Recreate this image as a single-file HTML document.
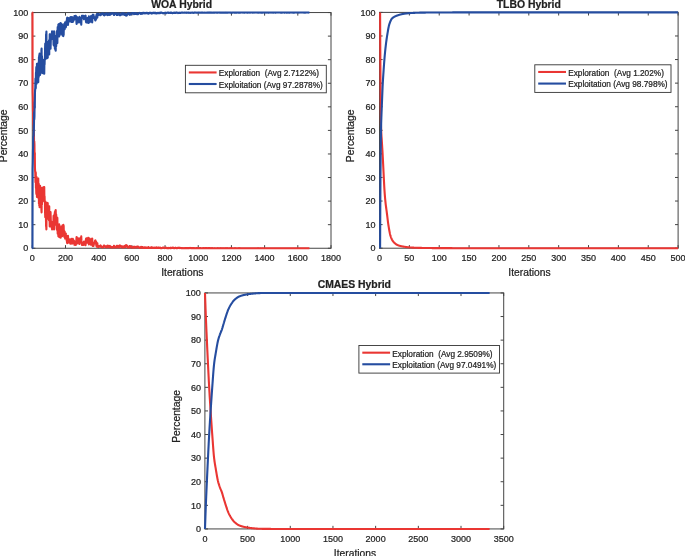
<!DOCTYPE html>
<html><head><meta charset="utf-8"><title>Hybrid exploration / exploitation</title>
<style>
html,body{margin:0;padding:0;background:#fff;}
body{width:685px;height:556px;overflow:hidden;}
svg{display:block;font-family:"Liberation Sans", Arial, sans-serif;fill:#222;}
text{stroke:#222;stroke-width:0.22px;white-space:pre;}
</style></head><body>
<svg width="685" height="556" viewBox="0 0 685 556">
<rect width="685" height="556" fill="#fff"/>
<rect x="32.3" y="12.55" width="298.7" height="235.7" fill="none" stroke="#444" stroke-width="1"/>
<text x="28.3" y="251.45" text-anchor="end" font-size="9.0">0</text>
<text x="28.3" y="227.88" text-anchor="end" font-size="9.0">10</text>
<text x="28.3" y="204.31" text-anchor="end" font-size="9.0">20</text>
<text x="28.3" y="180.74" text-anchor="end" font-size="9.0">30</text>
<text x="28.3" y="157.17" text-anchor="end" font-size="9.0">40</text>
<text x="28.3" y="133.6" text-anchor="end" font-size="9.0">50</text>
<text x="28.3" y="110.03" text-anchor="end" font-size="9.0">60</text>
<text x="28.3" y="86.46" text-anchor="end" font-size="9.0">70</text>
<text x="28.3" y="62.89" text-anchor="end" font-size="9.0">80</text>
<text x="28.3" y="39.32" text-anchor="end" font-size="9.0">90</text>
<text x="28.3" y="15.75" text-anchor="end" font-size="9.0">100</text>
<text x="32.3" y="261.25" text-anchor="middle" font-size="9.0">0</text>
<text x="65.49" y="261.25" text-anchor="middle" font-size="9.0">200</text>
<text x="98.68" y="261.25" text-anchor="middle" font-size="9.0">400</text>
<text x="131.87" y="261.25" text-anchor="middle" font-size="9.0">600</text>
<text x="165.06" y="261.25" text-anchor="middle" font-size="9.0">800</text>
<text x="198.24" y="261.25" text-anchor="middle" font-size="9.0">1000</text>
<text x="231.43" y="261.25" text-anchor="middle" font-size="9.0">1200</text>
<text x="264.62" y="261.25" text-anchor="middle" font-size="9.0">1400</text>
<text x="297.81" y="261.25" text-anchor="middle" font-size="9.0">1600</text>
<text x="331" y="261.25" text-anchor="middle" font-size="9.0">1800</text>
<path d="M32.3 248.25h3.1M331.0 248.25h-3.1M32.3 224.68h3.1M331.0 224.68h-3.1M32.3 201.11h3.1M331.0 201.11h-3.1M32.3 177.54h3.1M331.0 177.54h-3.1M32.3 153.97h3.1M331.0 153.97h-3.1M32.3 130.4h3.1M331.0 130.4h-3.1M32.3 106.83h3.1M331.0 106.83h-3.1M32.3 83.26h3.1M331.0 83.26h-3.1M32.3 59.69h3.1M331.0 59.69h-3.1M32.3 36.12h3.1M331.0 36.12h-3.1M32.3 12.55h3.1M331.0 12.55h-3.1M32.3 248.25v-3.1M32.3 12.55v3.1M65.49 248.25v-3.1M65.49 12.55v3.1M98.68 248.25v-3.1M98.68 12.55v3.1M131.87 248.25v-3.1M131.87 12.55v3.1M165.06 248.25v-3.1M165.06 12.55v3.1M198.24 248.25v-3.1M198.24 12.55v3.1M231.43 248.25v-3.1M231.43 12.55v3.1M264.62 248.25v-3.1M264.62 12.55v3.1M297.81 248.25v-3.1M297.81 12.55v3.1M331 248.25v-3.1M331 12.55v3.1" stroke="#444" stroke-width="1" fill="none"/>
<text x="181.65" y="7.85" text-anchor="middle" font-size="10.4" font-weight="bold">WOA Hybrid</text>
<text x="182.35" y="275.95" text-anchor="middle" font-size="10.3">Iterations</text>
<text transform="translate(6.9 135.9) rotate(-90)" text-anchor="middle" font-size="10.3">Percentage</text>
<path d="M32.3 12.55 L32.47 12.55 L32.63 91.97 L32.8 97.97 L32.96 110.12 L33.13 113.99 L33.3 124.19 L33.46 124.44 L33.63 125.1 L33.79 129.95 L33.96 135.82 L34.13 148.71 L34.29 141.32 L34.46 144.67 L34.62 158.91 L34.79 152.77 L34.96 167.95 L35.12 171.1 L35.29 173 L35.45 182.25 L35.62 172.14 L35.78 173 L35.95 188.04 L36.12 187.7 L36.28 193 L36.45 193.96 L36.61 177.04 L36.78 181.29 L36.95 197.07 L37.11 186.16 L37.28 189.92 L37.44 180 L37.61 185.84 L37.78 190 L37.94 191 L38.11 179.05 L38.27 178.58 L38.44 195.58 L38.61 198.6 L38.77 183.82 L38.94 203.65 L39.1 196.66 L39.27 205.71 L39.44 200.5 L39.6 207.24 L39.77 202.48 L39.93 189.47 L40.1 185.92 L40.27 187.97 L40.43 192.83 L40.6 189.41 L40.76 195.01 L40.93 200.31 L41.1 194.18 L41.26 188.26 L41.43 210.48 L41.59 212.33 L41.76 192.37 L41.92 204.81 L42.09 190.91 L42.26 187.84 L42.42 187.78 L42.59 197.87 L42.75 201.09 L42.92 190.77 L43.09 191.94 L43.25 193.02 L43.42 187.37 L43.58 189.61 L43.75 187.24 L43.92 198.16 L44.08 190.39 L44.25 187.04 L44.41 200.63 L44.58 196.31 L44.75 202.84 L44.91 201.3 L45.08 212.61 L45.24 217.26 L45.41 201.56 L45.58 215 L45.74 214.68 L45.91 214.5 L46.07 226.32 L46.24 226.43 L46.41 229.35 L46.57 209.03 L46.74 205.15 L46.9 205.48 L47.07 202.71 L47.23 204.55 L47.4 203.28 L47.57 218.78 L47.73 203 L47.9 215.99 L48.06 213.3 L48.23 216.9 L48.4 210.22 L48.56 207.54 L48.73 209.73 L48.89 217.01 L49.06 220.57 L49.23 206.26 L49.39 220.79 L49.56 218.14 L49.72 226.43 L49.89 221.95 L50.06 226.57 L50.22 221.54 L50.39 214.38 L50.55 212.12 L50.72 217.38 L50.89 224.91 L51.05 221.19 L51.22 223.22 L51.38 221.82 L51.55 225.91 L51.72 223.5 L51.88 227.77 L52.05 229.42 L52.21 227.1 L52.38 221.94 L52.55 223.5 L52.71 225.62 L52.88 224.93 L53.04 222.49 L53.21 225.68 L53.37 223.81 L53.54 216.24 L53.71 215.58 L53.87 216.06 L54.04 229.42 L54.2 221.07 L54.37 224.99 L54.54 214.08 L54.7 225.03 L54.87 212 L55.03 222.49 L55.2 217.64 L55.37 210.8 L55.53 214.64 L55.7 210 L55.86 215.87 L56.03 221.88 L56.2 214.59 L56.36 219.89 L56.53 222.81 L56.69 228.8 L56.86 229.63 L57.03 218.43 L57.19 217.62 L57.36 217.83 L57.52 229.33 L57.69 233.75 L57.86 228.34 L58.02 225.31 L58.19 226.75 L58.35 236.34 L58.52 234.08 L58.69 227.56 L58.85 236.67 L59.02 226.4 L59.18 224.26 L59.35 234.56 L59.51 237.11 L59.68 225.72 L59.85 229.11 L60.01 233.15 L60.18 232.44 L60.34 227.34 L60.51 233.71 L60.68 237.73 L60.84 231.77 L61.01 235.29 L61.17 230.69 L61.34 227.15 L61.51 233.12 L61.67 234.04 L61.84 236.31 L62 226.59 L62.17 236.28 L62.34 225.54 L62.5 228.22 L62.67 225.18 L62.83 225.94 L63 233.74 L63.17 233.06 L63.33 224.71 L63.5 230.55 L63.66 225.72 L63.83 233.45 L64 233.58 L64.16 231.07 L64.33 237 L64.49 232.65 L64.66 231.58 L64.83 236.76 L64.99 236.86 L65.16 238.58 L65.32 235.78 L65.49 238.19 L65.65 234.56 L65.82 233.45 L65.99 234.7 L66.15 235.4 L66.32 236.92 L66.48 236.56 L66.65 240.37 L66.82 239.64 L66.98 242.3 L67.15 242.91 L67.31 243.2 L67.48 241.48 L67.65 243.07 L67.81 238.97 L67.98 235.92 L68.14 237.71 L68.31 241.39 L68.48 240.8 L68.64 242.45 L68.81 239.46 L68.97 241.58 L69.14 240.86 L69.31 239.34 L69.47 239.52 L69.64 241.68 L69.8 241.71 L69.97 241.21 L70.14 242.6 L70.3 243.61 L70.47 243.43 L70.63 243.56 L70.8 243.34 L70.97 243.41 L71.13 241.81 L71.3 238.76 L71.46 240.39 L71.63 241.28 L71.79 242.64 L71.96 243.66 L72.13 241.82 L72.29 243.37 L72.46 241.31 L72.62 239.58 L72.79 238.75 L72.96 239.68 L73.12 240.27 L73.29 239.72 L73.45 241.87 L73.62 241.05 L73.79 240.72 L73.95 241.68 L74.12 241.01 L74.28 243.77 L74.45 244.83 L74.62 244.11 L74.78 244.7 L74.95 244.07 L75.11 244.44 L75.28 244.59 L75.45 243.14 L75.61 244.97 L75.78 244.94 L75.94 244.25 L76.11 240.97 L76.28 241.74 L76.44 238.45 L76.61 236.95 L76.77 238.17 L76.94 243.55 L77.1 242.56 L77.27 243.48 L77.44 242.9 L77.6 242.65 L77.77 242.54 L77.93 239.42 L78.1 238.39 L78.27 242.67 L78.43 242.62 L78.6 240.54 L78.76 240.17 L78.93 239.69 L79.1 242.46 L79.26 242.98 L79.43 243.97 L79.59 243.12 L79.76 241.69 L79.93 238.25 L80.09 242.56 L80.26 242.18 L80.42 239.12 L80.59 239.57 L80.76 242.43 L80.92 241.34 L81.09 240.41 L81.25 236.18 L81.42 240.64 L81.59 242.87 L81.75 242.71 L81.92 244.94 L82.08 244.59 L82.25 245.02 L82.42 245.04 L82.58 244.13 L82.75 242.99 L82.91 243.69 L83.08 244.01 L83.24 243.58 L83.41 245.04 L83.58 244.51 L83.74 242.1 L83.91 241.49 L84.07 244.45 L84.24 244.55 L84.41 242.18 L84.57 243.33 L84.74 242.64 L84.9 243.86 L85.07 244.75 L85.24 244.42 L85.4 244.61 L85.57 245.15 L85.73 243.33 L85.9 239.65 L86.07 238.6 L86.23 238.49 L86.4 238.81 L86.56 238.26 L86.73 241.78 L86.9 241.98 L87.06 241.66 L87.23 241.15 L87.39 242.75 L87.56 242.36 L87.73 240.83 L87.89 239.06 L88.06 240.48 L88.22 237.88 L88.39 237.84 L88.56 242.2 L88.72 241.7 L88.89 244.47 L89.05 243.63 L89.22 239.7 L89.38 238.46 L89.55 238.57 L89.72 238.67 L89.88 240.98 L90.05 240.95 L90.21 243.4 L90.38 243.75 L90.55 241.57 L90.71 242.26 L90.88 243.27 L91.04 244.8 L91.21 242.14 L91.38 244.34 L91.54 239.34 L91.71 240.99 L91.87 240.5 L92.04 238.6 L92.21 238.51 L92.37 241.6 L92.54 242.78 L92.7 245.89 L92.87 245.55 L93.04 245.89 L93.2 245.89 L93.37 245.89 L93.53 245.89 L93.7 244.45 L93.87 242.92 L94.03 243.76 L94.2 243.31 L94.36 243.49 L94.53 242.96 L94.7 243.57 L94.86 242.56 L95.03 240.85 L95.19 242.28 L95.36 240.35 L95.52 240.66 L95.69 240.96 L95.86 241.26 L96.02 242.78 L96.19 241.86 L96.35 245.86 L96.52 245.58 L96.69 244.81 L96.85 246.67 L97.02 244.85 L97.18 243.42 L97.35 243.26 L97.52 245.55 L97.68 245.71 L97.85 246.2 L98.01 246.99 L98.18 246.91 L98.35 246.84 L98.51 246.76 L98.68 246.68 L98.84 245.96 L99.01 246.24 L99.18 246.24 L99.34 246.36 L99.51 246.44 L99.67 246.51 L99.84 246.59 L100.01 246.52 L100.17 246.73 L100.34 245.57 L100.5 246.67 L100.67 245.64 L100.84 246.38 L101 245.98 L101.17 246.63 L101.33 247.15 L101.5 246.52 L101.66 246.84 L101.83 247.11 L102 246.65 L102.16 247.1 L102.33 247.11 L102.49 247.07 L102.66 247.07 L102.83 247.46 L102.99 247.47 L103.16 247.38 L103.32 247.3 L103.49 246.76 L103.66 246.61 L103.82 245.59 L103.99 245.59 L104.15 245.48 L104.32 245.46 L104.49 246.42 L104.65 246.58 L104.82 246.62 L104.98 246.38 L105.15 246.93 L105.32 246.32 L105.48 246.37 L105.65 246.55 L105.81 246.26 L105.98 246.85 L106.15 247.16 L106.31 247.25 L106.48 247.54 L106.64 247.51 L106.81 246.99 L106.97 246.74 L107.14 246.67 L107.31 246.13 L107.47 245.69 L107.64 246.11 L107.8 246.54 L107.97 246.2 L108.14 246.93 L108.3 245.78 L108.47 246.29 L108.63 247.04 L108.8 247.18 L108.97 247.19 L109.13 247.33 L109.3 247.01 L109.46 246.53 L109.63 245.93 L109.8 245.85 L109.96 246.75 L110.13 247.23 L110.29 247.21 L110.46 247.21 L110.63 247.27 L110.79 247.07 L110.96 246.63 L111.12 247.34 L111.29 247.28 L111.46 246.98 L111.62 247.48 L111.79 247.46 L111.95 247.47 L112.12 247.43 L112.29 247.34 L112.45 247.53 L112.62 247.16 L112.78 247.47 L112.95 247.54 L113.11 247.54 L113.28 247.44 L113.45 246.93 L113.61 247.21 L113.78 246.78 L113.94 245.82 L114.11 245.76 L114.28 246.69 L114.44 247.04 L114.61 246.66 L114.77 246.65 L114.94 247.34 L115.11 247.05 L115.27 247.37 L115.44 247.09 L115.6 247.46 L115.77 247.51 L115.94 247.42 L116.1 247.09 L116.27 247.45 L116.43 247.17 L116.6 246.74 L116.77 245.78 L116.93 246.5 L117.1 246.4 L117.26 246.21 L117.43 245.95 L117.6 247.03 L117.76 247.15 L117.93 247.23 L118.09 247.07 L118.26 246.83 L118.43 246.27 L118.59 247.07 L118.76 247.13 L118.92 247.47 L119.09 246.82 L119.25 246.8 L119.42 245.66 L119.59 245.66 L119.75 246.2 L119.92 245.66 L120.08 246.26 L120.25 245.8 L120.42 245.68 L120.58 246.66 L120.75 246.74 L120.91 246.72 L121.08 247.07 L121.25 247.27 L121.41 247.3 L121.58 247.11 L121.74 246.22 L121.91 246.74 L122.08 246.99 L122.24 247.4 L122.41 247.51 L122.57 247.43 L122.74 246.66 L122.91 246.32 L123.07 247.1 L123.24 247.26 L123.4 247.43 L123.57 247.51 L123.74 247.54 L123.9 247.46 L124.07 246.57 L124.23 246.99 L124.4 246.61 L124.57 245.91 L124.73 245.82 L124.9 246.35 L125.06 246.32 L125.23 246.43 L125.39 246.97 L125.56 246.19 L125.73 246.16 L125.89 246.07 L126.06 245.12 L126.22 245.51 L126.39 246.23 L126.56 245.22 L126.72 245.47 L126.89 245.58 L127.05 245.73 L127.22 246.81 L127.39 246.92 L127.55 247.39 L127.72 247.42 L127.88 247.32 L128.05 247.46 L128.22 247.57 L128.38 247.51 L128.55 247.15 L128.71 247.17 L128.88 246.82 L129.05 247.47 L129.21 246.87 L129.38 247.11 L129.54 246.02 L129.71 245.98 L129.88 246.32 L130.04 246.06 L130.21 246.01 L130.37 246.51 L130.54 247.17 L130.71 246.88 L130.87 247.22 L131.04 247.38 L131.2 247.32 L131.37 246.76 L131.53 246.96 L131.7 246.67 L131.87 247.47 L132.03 247.67 L132.2 247.32 L132.36 247.6 L132.53 247.31 L132.7 247.47 L132.86 247.32 L133.03 247.38 L133.19 247.74 L133.36 247.71 L133.53 247.67 L133.69 246.89 L133.86 246.84 L134.02 246.59 L134.19 246.69 L134.36 247.05 L134.52 247.14 L134.69 247.2 L134.85 247.38 L135.02 247.08 L135.19 246.8 L135.35 247.27 L135.52 247.61 L135.68 247.52 L135.85 247.76 L136.02 247.53 L136.18 247.29 L136.35 246.86 L136.51 247.47 L136.68 247.29 L136.84 247.28 L137.01 246.93 L137.18 246.61 L137.34 246.9 L137.51 246.6 L137.67 247.06 L137.84 247.06 L138.01 247.23 L138.17 247.29 L138.34 246.69 L138.5 247.01 L138.67 247.4 L138.84 247.38 L139 247.63 L139.17 247.85 L139.33 247.66 L139.5 247.57 L139.67 247.69 L139.83 247.85 L140 247.79 L140.16 247.87 L140.33 247.85 L140.5 247.73 L140.66 247.23 L140.83 247.01 L140.99 246.8 L141.16 246.79 L141.33 247.27 L141.49 247.36 L141.66 247.64 L141.82 247.71 L141.99 247.25 L142.16 247.24 L142.32 247.1 L142.49 247.07 L142.65 247.7 L142.82 247.83 L142.98 247.57 L143.15 247.88 L143.32 247.54 L143.48 247.88 L143.65 247.97 L143.81 247.88 L143.98 247.81 L144.15 247.28 L144.31 247.74 L144.48 247.85 L144.64 247.74 L144.81 247.94 L144.98 247.93 L145.14 247.76 L145.31 247.79 L145.47 247.47 L145.64 247.58 L145.81 247.65 L145.97 247.79 L146.14 247.62 L146.3 247.96 L146.47 247.94 L146.64 247.79 L146.8 247.51 L146.97 247.46 L147.13 247.72 L147.3 247.82 L147.47 247.95 L147.63 247.88 L147.8 247.84 L147.96 247.84 L148.13 247.52 L148.3 247.15 L148.46 247.15 L148.63 247.15 L148.79 247.44 L148.96 247.44 L149.12 247.7 L149.29 248.02 L149.46 247.9 L149.62 248.04 L149.79 248.04 L149.95 247.95 L150.12 247.77 L150.29 247.79 L150.45 247.94 L150.62 248.05 L150.78 248 L150.95 247.84 L151.12 247.44 L151.28 247.54 L151.45 247.29 L151.61 247.22 L151.78 247.28 L151.95 247.73 L152.11 247.41 L152.28 247.87 L152.44 247.63 L152.61 247.67 L152.78 247.82 L152.94 247.88 L153.11 247.93 L153.27 247.9 L153.44 247.72 L153.61 247.87 L153.77 248 L153.94 248.05 L154.1 247.85 L154.27 247.74 L154.44 247.64 L154.6 247.59 L154.77 247.85 L154.93 247.75 L155.1 247.93 L155.26 247.98 L155.43 248.06 L155.6 248.01 L155.76 247.85 L155.93 247.69 L156.09 247.43 L156.26 247.69 L156.43 247.57 L156.59 247.41 L156.76 247.81 L156.92 247.76 L157.09 247.71 L157.26 247.83 L157.42 247.96 L157.59 247.88 L157.75 247.58 L157.92 247.58 L158.09 247.6 L158.25 247.57 L158.42 247.63 L158.58 247.86 L158.75 247.57 L158.92 247.76 L159.08 247.79 L159.25 248.03 L159.41 247.95 L159.58 247.66 L159.75 247.56 L159.91 247.8 L160.08 247.94 L160.24 247.78 L160.41 247.99 L160.58 247.85 L160.74 248.08 L160.91 247.95 L161.07 248.08 L161.24 248.13 L161.4 248.13 L161.57 248.12 L161.74 248.13 L161.9 248.13 L162.07 248.09 L162.23 247.89 L162.4 247.74 L162.57 247.81 L162.73 247.55 L162.9 247.54 L163.06 247.62 L163.23 247.5 L163.4 247.67 L163.56 247.68 L163.73 247.74 L163.89 247.62 L164.06 247.78 L164.23 247.81 L164.39 247.77 L164.56 247.82 L164.72 248.04 L164.89 247.8 L165.06 247.85 L165.22 248.02 L165.39 247.9 L165.55 247.89 L165.72 247.98 L165.89 247.72 L166.05 247.93 L166.22 247.87 L166.38 247.8 L166.55 247.72 L166.71 247.87 L166.88 247.99 L167.05 248.16 L167.21 248.16 L167.38 248.16 L167.54 248.16 L167.71 248.12 L167.88 248.12 L168.04 247.97 L168.21 248.14 L168.37 248.12 L168.54 248.17 L168.71 248.12 L168.87 248.12 L169.04 247.85 L169.2 247.92 L169.37 247.96 L169.54 248.01 L169.7 248.07 L169.87 248.01 L170.03 248.12 L170.2 248.09 L170.37 247.82 L170.53 248.02 L170.7 247.85 L170.86 248.08 L171.03 248.01 L171.2 248.12 L171.36 248.04 L171.53 248 L171.69 247.89 L171.86 248.04 L172.03 247.93 L172.19 247.66 L172.36 247.65 L172.52 247.65 L172.69 247.69 L172.85 247.77 L173.02 247.95 L173.19 248 L173.35 247.85 L173.52 247.96 L173.68 248.04 L173.85 247.85 L174.02 248.13 L174.18 248.1 L174.35 248.18 L174.51 248.15 L174.68 248.13 L174.85 247.94 L175.01 247.92 L175.18 247.77 L175.34 247.9 L175.51 247.82 L175.68 248 L175.84 247.91 L176.01 248.04 L176.17 248.02 L176.34 248.18 L176.51 248.15 L176.67 248.04 L176.84 248.15 L177 248.11 L177.17 248.12 L177.34 248.16 L177.5 248.11 L177.67 247.9 L177.83 247.83 L178 247.73 L178.17 247.81 L178.33 247.89 L178.5 247.94 L178.66 247.89 L178.83 247.74 L178.99 247.8 L179.16 247.94 L179.33 247.92 L179.49 247.87 L179.66 247.83 L179.82 248.04 L179.99 247.86 L180.16 247.92 L180.32 248 L180.49 247.99 L180.65 247.94 L180.82 247.98 L180.99 248.06 L181.15 248.12 L181.32 248 L181.48 247.98 L181.65 248.09 L181.82 248.19 L181.98 248.2 L182.15 248.2 L182.31 248.17 L182.48 248.21 L182.65 248.18 L182.81 248.1 L182.98 248.03 L183.14 248.05 L183.31 248.11 L183.48 248.1 L183.64 248.08 L183.81 248.19 L183.97 248.19 L184.14 248.2 L184.31 248.18 L184.47 248.16 L184.64 248.14 L184.8 248.1 L184.97 248.12 L185.13 248.2 L185.3 248.19 L185.47 248.15 L185.63 248.08 L185.8 248.09 L185.96 248.12 L186.13 248.19 L186.3 248.17 L186.46 247.98 L186.63 248.06 L186.79 248.06 L186.96 248.17 L187.13 248.1 L187.29 248.13 L187.46 248.08 L187.62 248.12 L187.79 248.1 L187.96 248.19 L188.12 248.12 L188.29 248.14 L188.45 248.03 L188.62 247.96 L188.79 248.12 L188.95 248.13 L189.12 248.09 L189.28 248.13 L189.45 248.08 L189.62 248.05 L189.78 248.01 L189.95 248.03 L190.11 247.9 L190.28 248.08 L190.45 247.93 L190.61 247.96 L190.78 247.99 L190.94 248.08 L191.11 248.13 L191.27 248.17 L191.44 248.06 L191.61 248.05 L191.77 248.02 L191.94 248.06 L192.1 248.07 L192.27 248.01 L192.44 248.17 L192.6 248.13 L192.77 248.17 L192.93 248.18 L193.1 248.05 L193.27 247.94 L193.43 247.95 L193.6 248.05 L193.76 248.09 L193.93 248.14 L194.1 248.18 L194.26 248.21 L194.43 248.18 L194.59 248.19 L194.76 248.14 L194.93 248.12 L195.09 248.24 L195.26 248.23 L195.42 248.24 L195.59 248.24 L195.76 248.24 L195.92 248.19 L196.09 248.22 L196.25 248.12 L196.42 248.08 L196.58 248 L196.75 248.15 L196.92 248.2 L197.08 248.14 L197.25 248.19 L197.41 248.13 L197.58 248.12 L197.75 248.12 L197.91 248.17 L198.08 248.18 L198.24 248.24 L198.41 248.25 L198.58 248.23 L198.74 248.23 L198.91 248.23 L199.07 248.12 L199.24 248.12 L199.41 248.12 L199.57 248.13 L199.74 248.18 L199.9 248.17 L200.07 248.16 L200.24 248.17 L200.4 248.12 L200.57 248.11 L200.73 248.13 L200.9 248.15 L201.07 248.2 L201.23 248.24 L201.4 248.22 L201.56 248.23 L201.73 248.2 L201.9 248.18 L202.06 248.23 L202.23 248.2 L202.39 248.21 L202.56 248.2 L202.72 248.16 L202.89 248.1 L203.06 248.08 L203.22 248.07 L203.39 248.04 L203.55 248.11 L203.72 248.14 L203.89 248.19 L204.05 248.19 L204.22 248.16 L204.38 248.2 L204.55 248.16 L204.72 248.13 L204.88 248.11 L205.05 248.12 L205.21 248.06 L205.38 248.11 L205.55 248.17 L205.71 248.16 L205.88 248.19 L206.04 248.19 L206.21 248.04 L206.38 248.04 L206.54 248.05 L206.71 248.06 L206.87 248.08 L207.04 248.21 L207.21 248.19 L207.37 248.18 L207.54 248.21 L207.7 248.17 L207.87 248.13 L208.04 248.1 L208.2 248.16 L208.37 248.19 L208.53 248.13 L208.7 248.16 L208.86 248.18 L209.03 248.19 L209.2 248.22 L209.36 248.11 L209.53 248.15 L209.69 248.18 L209.86 248.17 L210.03 248.13 L210.19 248.2 L210.36 248.15 L210.52 248.17 L210.69 248.24 L210.86 248.21 L211.02 248.23 L211.19 248.23 L211.35 248.16 L211.52 248.21 L211.69 248.14 L211.85 248.05 L212.02 248.12 L212.18 248.06 L212.35 248.13 L212.52 248.17 L212.68 248.21 L212.85 248.22 L213.01 248.25 L213.18 248.23 L213.35 248.2 L213.51 248.18 L213.68 248.19 L213.84 248.21 L214.01 248.19 L214.18 248.24 L214.34 248.23 L214.51 248.24 L214.67 248.17 L214.84 248.18 L215 248.18 L215.17 248.21 L215.34 248.21 L215.5 248.24 L215.67 248.24 L215.83 248.25 L216 248.23 L216.17 248.25 L216.33 248.2 L216.5 248.2 L216.66 248.21 L216.83 248.21 L217 248.18 L217.16 248.22 L217.33 248.16 L217.49 248.18 L217.66 248.17 L217.83 248.19 L217.99 248.2 L218.16 248.16 L218.32 248.24 L218.49 248.25 L218.66 248.25 L218.82 248.25 L218.99 248.25 L219.15 248.24 L219.32 248.22 L219.49 248.23 L219.65 248.2 L219.82 248.19 L219.98 248.13 L220.15 248.16 L220.32 248.16 L220.48 248.16 L220.65 248.19 L220.81 248.22 L220.98 248.23 L221.14 248.2 L221.31 248.21 L221.48 248.2 L221.64 248.15 L221.81 248.21 L221.97 248.21 L222.14 248.16 L222.31 248.22 L222.47 248.23 L222.64 248.21 L222.8 248.23 L222.97 248.19 L223.14 248.25 L223.3 248.25 L223.47 248.24 L223.63 248.16 L223.8 248.19 L223.97 248.18 L224.13 248.24 L224.3 248.24 L224.46 248.21 L224.63 248.18 L224.8 248.17 L224.96 248.2 L225.13 248.2 L225.29 248.17 L225.46 248.19 L225.63 248.18 L225.79 248.2 L225.96 248.11 L226.12 248.2 L226.29 248.21 L226.45 248.19 L226.62 248.16 L226.79 248.23 L226.95 248.2 L227.12 248.19 L227.28 248.21 L227.45 248.17 L227.62 248.19 L227.78 248.15 L227.95 248.18 L228.11 248.19 L228.28 248.21 L228.45 248.23 L228.61 248.24 L228.78 248.25 L228.94 248.25 L229.11 248.25 L229.28 248.25 L229.44 248.25 L229.61 248.22 L229.77 248.2 L229.94 248.16 L230.11 248.15 L230.27 248.18 L230.44 248.2 L230.6 248.2 L230.77 248.16 L230.94 248.17 L231.1 248.12 L231.27 248.18 L231.43 248.16 L231.6 248.22 L231.77 248.19 L231.93 248.21 L232.1 248.23 L232.26 248.19 L232.43 248.22 L232.59 248.17 L232.76 248.21 L232.93 248.22 L233.09 248.23 L233.26 248.23 L233.42 248.23 L233.59 248.24 L233.76 248.22 L233.92 248.23 L234.09 248.18 L234.25 248.18 L234.42 248.15 L234.59 248.22 L234.75 248.2 L234.92 248.2 L235.08 248.2 L235.25 248.22 L235.42 248.19 L235.58 248.17 L235.75 248.22 L235.91 248.16 L236.08 248.2 L236.25 248.21 L236.41 248.2 L236.58 248.24 L236.74 248.23 L236.91 248.23 L237.08 248.18 L237.24 248.22 L237.41 248.22 L237.57 248.24 L237.74 248.24 L237.91 248.23 L238.07 248.25 L238.24 248.23 L238.4 248.19 L238.57 248.17 L238.73 248.15 L238.9 248.14 L239.07 248.18 L239.23 248.15 L239.4 248.21 L239.56 248.22 L239.73 248.23 L239.9 248.17 L240.06 248.14 L240.23 248.19 L240.39 248.2 L240.56 248.19 L240.73 248.24 L240.89 248.24 L241.06 248.24 L241.22 248.24 L241.39 248.25 L241.56 248.24 L241.72 248.24 L241.89 248.24 L242.05 248.24 L242.22 248.2 L242.39 248.22 L242.55 248.24 L242.72 248.23 L242.88 248.24 L243.05 248.23 L243.22 248.21 L243.38 248.22 L243.55 248.23 L243.71 248.24 L243.88 248.24 L244.05 248.22 L244.21 248.21 L244.38 248.19 L244.54 248.24 L244.71 248.2 L244.87 248.23 L245.04 248.22 L245.21 248.24 L245.37 248.24 L245.54 248.25 L245.7 248.25 L245.87 248.25 L246.04 248.25 L246.2 248.25 L246.37 248.24 L246.53 248.24 L246.7 248.22 L246.87 248.24 L247.03 248.23 L247.2 248.19 L247.36 248.19 L247.53 248.19 L247.7 248.2 L247.86 248.22 L248.03 248.22 L248.19 248.22 L248.36 248.22 L248.53 248.24 L248.69 248.25 L248.86 248.24 L249.02 248.24 L249.19 248.23 L249.36 248.24 L249.52 248.2 L249.69 248.21 L249.85 248.2 L250.02 248.2 L250.19 248.22 L250.35 248.24 L250.52 248.24 L250.68 248.23 L250.85 248.22 L251.01 248.23 L251.18 248.24 L251.35 248.24 L251.51 248.23 L251.68 248.24 L251.84 248.25 L252.01 248.25 L252.18 248.25 L252.34 248.22 L252.51 248.22 L252.67 248.23 L252.84 248.21 L253.01 248.23 L253.17 248.25 L253.34 248.23 L253.5 248.23 L253.67 248.22 L253.84 248.19 L254 248.24 L254.17 248.21 L254.33 248.25 L254.5 248.25 L254.67 248.24 L254.83 248.22 L255 248.24 L255.16 248.25 L255.33 248.23 L255.5 248.24 L255.66 248.24 L255.83 248.24 L255.99 248.22 L256.16 248.24 L256.32 248.22 L256.49 248.24 L256.66 248.25 L256.82 248.25 L256.99 248.23 L257.15 248.23 L257.32 248.23 L257.49 248.23 L257.65 248.2 L257.82 248.17 L257.98 248.16 L258.15 248.16 L258.32 248.16 L258.48 248.19 L258.65 248.23 L258.81 248.21 L258.98 248.24 L259.15 248.23 L259.31 248.23 L259.48 248.23 L259.64 248.22 L259.81 248.21 L259.98 248.19 L260.14 248.17 L260.31 248.18 L260.47 248.22 L260.64 248.24 L260.81 248.23 L260.97 248.23 L261.14 248.22 L261.3 248.23 L261.47 248.21 L261.64 248.22 L261.8 248.21 L261.97 248.21 L262.13 248.17 L262.3 248.2 L262.46 248.23 L262.63 248.2 L262.8 248.23 L262.96 248.24 L263.13 248.25 L263.29 248.25 L263.46 248.24 L263.63 248.24 L263.79 248.22 L263.96 248.22 L264.12 248.23 L264.29 248.23 L264.46 248.22 L264.62 248.21 L264.79 248.22 L264.95 248.2 L265.12 248.2 L265.29 248.23 L265.45 248.23 L265.62 248.25 L265.78 248.24 L265.95 248.25 L266.12 248.25 L266.28 248.23 L266.45 248.23 L266.61 248.22 L266.78 248.21 L266.95 248.22 L267.11 248.25 L267.28 248.25 L267.44 248.25 L267.61 248.23 L267.78 248.21 L267.94 248.19 L268.11 248.21 L268.27 248.21 L268.44 248.23 L268.6 248.22 L268.77 248.21 L268.94 248.23 L269.1 248.22 L269.27 248.22 L269.43 248.23 L269.6 248.23 L269.77 248.24 L269.93 248.24 L270.1 248.25 L270.26 248.23 L270.43 248.25 L270.6 248.25 L270.76 248.23 L270.93 248.2 L271.09 248.21 L271.26 248.24 L271.43 248.25 L271.59 248.24 L271.76 248.25 L271.92 248.22 L272.09 248.23 L272.26 248.22 L272.42 248.24 L272.59 248.23 L272.75 248.23 L272.92 248.22 L273.09 248.21 L273.25 248.22 L273.42 248.23 L273.58 248.23 L273.75 248.22 L273.92 248.22 L274.08 248.24 L274.25 248.24 L274.41 248.24 L274.58 248.23 L274.74 248.23 L274.91 248.22 L275.08 248.21 L275.24 248.2 L275.41 248.21 L275.57 248.19 L275.74 248.21 L275.91 248.2 L276.07 248.23 L276.24 248.24 L276.4 248.23 L276.57 248.25 L276.74 248.25 L276.9 248.24 L277.07 248.24 L277.23 248.24 L277.4 248.23 L277.57 248.23 L277.73 248.24 L277.9 248.25 L278.06 248.25 L278.23 248.24 L278.4 248.24 L278.56 248.24 L278.73 248.24 L278.89 248.24 L279.06 248.23 L279.23 248.23 L279.39 248.24 L279.56 248.24 L279.72 248.23 L279.89 248.23 L280.06 248.23 L280.22 248.24 L280.39 248.21 L280.55 248.18 L280.72 248.21 L280.88 248.19 L281.05 248.18 L281.22 248.18 L281.38 248.21 L281.55 248.21 L281.71 248.19 L281.88 248.18 L282.05 248.19 L282.21 248.21 L282.38 248.2 L282.54 248.24 L282.71 248.23 L282.88 248.24 L283.04 248.24 L283.21 248.23 L283.37 248.24 L283.54 248.24 L283.71 248.25 L283.87 248.24 L284.04 248.23 L284.2 248.21 L284.37 248.23 L284.54 248.2 L284.7 248.2 L284.87 248.2 L285.03 248.2 L285.2 248.24 L285.37 248.24 L285.53 248.25 L285.7 248.25 L285.86 248.25 L286.03 248.25 L286.19 248.22 L286.36 248.23 L286.53 248.22 L286.69 248.22 L286.86 248.22 L287.02 248.21 L287.19 248.24 L287.36 248.23 L287.52 248.23 L287.69 248.2 L287.85 248.19 L288.02 248.22 L288.19 248.2 L288.35 248.24 L288.52 248.23 L288.68 248.23 L288.85 248.21 L289.02 248.22 L289.18 248.21 L289.35 248.19 L289.51 248.21 L289.68 248.19 L289.85 248.19 L290.01 248.19 L290.18 248.22 L290.34 248.24 L290.51 248.23 L290.68 248.25 L290.84 248.24 L291.01 248.25 L291.17 248.24 L291.34 248.24 L291.51 248.23 L291.67 248.24 L291.84 248.22 L292 248.23 L292.17 248.24 L292.33 248.24 L292.5 248.22 L292.67 248.23 L292.83 248.23 L293 248.21 L293.16 248.21 L293.33 248.2 L293.5 248.2 L293.66 248.2 L293.83 248.23 L293.99 248.21 L294.16 248.23 L294.33 248.21 L294.49 248.22 L294.66 248.22 L294.82 248.24 L294.99 248.24 L295.16 248.24 L295.32 248.25 L295.49 248.25 L295.65 248.25 L295.82 248.25 L295.99 248.25 L296.15 248.24 L296.32 248.24 L296.48 248.24 L296.65 248.22 L296.82 248.23 L296.98 248.24 L297.15 248.24 L297.31 248.25 L297.48 248.25 L297.65 248.25 L297.81 248.24 L297.98 248.23 L298.14 248.24 L298.31 248.2 L298.47 248.22 L298.64 248.22 L298.81 248.23 L298.97 248.23 L299.14 248.23 L299.3 248.22 L299.47 248.23 L299.64 248.23 L299.8 248.24 L299.97 248.25 L300.13 248.24 L300.3 248.24 L300.47 248.24 L300.63 248.23 L300.8 248.23 L300.96 248.24 L301.13 248.24 L301.3 248.24 L301.46 248.24 L301.63 248.25 L301.79 248.25 L301.96 248.24 L302.13 248.24 L302.29 248.23 L302.46 248.24 L302.62 248.24 L302.79 248.25 L302.96 248.25 L303.12 248.23 L303.29 248.21 L303.45 248.23 L303.62 248.24 L303.79 248.25 L303.95 248.25 L304.12 248.23 L304.28 248.23 L304.45 248.21 L304.61 248.22 L304.78 248.23 L304.95 248.22 L305.11 248.23 L305.28 248.24 L305.44 248.22 L305.61 248.21 L305.78 248.22 L305.94 248.23 L306.11 248.23 L306.27 248.24 L306.44 248.25 L306.61 248.24 L306.77 248.25 L306.94 248.25 L307.1 248.25 L307.27 248.25 L307.44 248.24 L307.6 248.23 L307.77 248.23 L307.93 248.24 L308.1 248.24 L308.27 248.22 L308.43 248.22 L308.6 248.23 L308.76 248.23 L308.93 248.24 L309.1 248.23 L309.26 248.24 L309.43 248.24" stroke="#ea3633" stroke-width="2.1" fill="none" stroke-linejoin="round" stroke-linecap="butt"/>
<path d="M32.3 248.25 L32.47 248.25 L32.63 168.83 L32.8 162.83 L32.96 150.68 L33.13 146.81 L33.3 136.61 L33.46 136.36 L33.63 135.7 L33.79 130.85 L33.96 124.98 L34.13 112.09 L34.29 119.48 L34.46 116.13 L34.62 101.89 L34.79 108.03 L34.96 92.85 L35.12 89.7 L35.29 87.8 L35.45 78.55 L35.62 88.66 L35.78 87.8 L35.95 72.76 L36.12 73.1 L36.28 67.8 L36.45 66.84 L36.61 83.76 L36.78 79.51 L36.95 63.73 L37.11 74.64 L37.28 70.88 L37.44 80.8 L37.61 74.96 L37.78 70.8 L37.94 69.8 L38.11 81.75 L38.27 82.22 L38.44 65.22 L38.61 62.2 L38.77 76.98 L38.94 57.15 L39.1 64.14 L39.27 55.09 L39.44 60.3 L39.6 53.56 L39.77 58.32 L39.93 71.33 L40.1 74.88 L40.27 72.83 L40.43 67.97 L40.6 71.39 L40.76 65.79 L40.93 60.49 L41.1 66.62 L41.26 72.54 L41.43 50.32 L41.59 48.47 L41.76 68.43 L41.92 55.99 L42.09 69.89 L42.26 72.96 L42.42 73.02 L42.59 62.93 L42.75 59.71 L42.92 70.03 L43.09 68.86 L43.25 67.78 L43.42 73.43 L43.58 71.19 L43.75 73.56 L43.92 62.64 L44.08 70.41 L44.25 73.76 L44.41 60.17 L44.58 64.49 L44.75 57.96 L44.91 59.5 L45.08 48.19 L45.24 43.54 L45.41 59.24 L45.58 45.8 L45.74 46.12 L45.91 46.3 L46.07 34.48 L46.24 34.37 L46.41 31.45 L46.57 51.77 L46.74 55.65 L46.9 55.32 L47.07 58.09 L47.23 56.25 L47.4 57.52 L47.57 42.02 L47.73 57.8 L47.9 44.81 L48.06 47.5 L48.23 43.9 L48.4 50.58 L48.56 53.26 L48.73 51.07 L48.89 43.79 L49.06 40.23 L49.23 54.54 L49.39 40.01 L49.56 42.66 L49.72 34.37 L49.89 38.85 L50.06 34.23 L50.22 39.26 L50.39 46.42 L50.55 48.68 L50.72 43.42 L50.89 35.89 L51.05 39.61 L51.22 37.58 L51.38 38.98 L51.55 34.89 L51.72 37.3 L51.88 33.03 L52.05 31.38 L52.21 33.7 L52.38 38.86 L52.55 37.3 L52.71 35.18 L52.88 35.87 L53.04 38.31 L53.21 35.12 L53.37 36.99 L53.54 44.56 L53.71 45.22 L53.87 44.74 L54.04 31.38 L54.2 39.73 L54.37 35.81 L54.54 46.72 L54.7 35.77 L54.87 48.8 L55.03 38.31 L55.2 43.16 L55.37 50 L55.53 46.16 L55.7 50.8 L55.86 44.93 L56.03 38.92 L56.2 46.21 L56.36 40.91 L56.53 37.99 L56.69 32 L56.86 31.17 L57.03 42.37 L57.19 43.18 L57.36 42.97 L57.52 31.47 L57.69 27.05 L57.86 32.46 L58.02 35.49 L58.19 34.05 L58.35 24.46 L58.52 26.72 L58.69 33.24 L58.85 24.13 L59.02 34.4 L59.18 36.54 L59.35 26.24 L59.51 23.69 L59.68 35.08 L59.85 31.69 L60.01 27.65 L60.18 28.36 L60.34 33.46 L60.51 27.09 L60.68 23.07 L60.84 29.03 L61.01 25.51 L61.17 30.11 L61.34 33.65 L61.51 27.68 L61.67 26.76 L61.84 24.49 L62 34.21 L62.17 24.52 L62.34 35.26 L62.5 32.58 L62.67 35.62 L62.83 34.86 L63 27.06 L63.17 27.74 L63.33 36.09 L63.5 30.25 L63.66 35.08 L63.83 27.35 L64 27.22 L64.16 29.73 L64.33 23.8 L64.49 28.15 L64.66 29.22 L64.83 24.04 L64.99 23.94 L65.16 22.22 L65.32 25.02 L65.49 22.61 L65.65 26.24 L65.82 27.35 L65.99 26.1 L66.15 25.4 L66.32 23.88 L66.48 24.24 L66.65 20.43 L66.82 21.16 L66.98 18.5 L67.15 17.89 L67.31 17.6 L67.48 19.32 L67.65 17.73 L67.81 21.83 L67.98 24.88 L68.14 23.09 L68.31 19.41 L68.48 20 L68.64 18.35 L68.81 21.34 L68.97 19.22 L69.14 19.94 L69.31 21.46 L69.47 21.28 L69.64 19.12 L69.8 19.09 L69.97 19.59 L70.14 18.2 L70.3 17.19 L70.47 17.37 L70.63 17.24 L70.8 17.46 L70.97 17.39 L71.13 18.99 L71.3 22.04 L71.46 20.41 L71.63 19.52 L71.79 18.16 L71.96 17.14 L72.13 18.98 L72.29 17.43 L72.46 19.49 L72.62 21.22 L72.79 22.05 L72.96 21.12 L73.12 20.53 L73.29 21.08 L73.45 18.93 L73.62 19.75 L73.79 20.08 L73.95 19.12 L74.12 19.79 L74.28 17.03 L74.45 15.97 L74.62 16.69 L74.78 16.1 L74.95 16.73 L75.11 16.36 L75.28 16.21 L75.45 17.66 L75.61 15.83 L75.78 15.86 L75.94 16.55 L76.11 19.83 L76.28 19.06 L76.44 22.35 L76.61 23.85 L76.77 22.63 L76.94 17.25 L77.1 18.24 L77.27 17.32 L77.44 17.9 L77.6 18.15 L77.77 18.26 L77.93 21.38 L78.1 22.41 L78.27 18.13 L78.43 18.18 L78.6 20.26 L78.76 20.63 L78.93 21.11 L79.1 18.34 L79.26 17.82 L79.43 16.83 L79.59 17.68 L79.76 19.11 L79.93 22.55 L80.09 18.24 L80.26 18.62 L80.42 21.68 L80.59 21.23 L80.76 18.37 L80.92 19.46 L81.09 20.39 L81.25 24.62 L81.42 20.16 L81.59 17.93 L81.75 18.09 L81.92 15.86 L82.08 16.21 L82.25 15.78 L82.42 15.76 L82.58 16.67 L82.75 17.81 L82.91 17.11 L83.08 16.79 L83.24 17.22 L83.41 15.76 L83.58 16.29 L83.74 18.7 L83.91 19.31 L84.07 16.35 L84.24 16.25 L84.41 18.62 L84.57 17.47 L84.74 18.16 L84.9 16.94 L85.07 16.05 L85.24 16.38 L85.4 16.19 L85.57 15.65 L85.73 17.47 L85.9 21.15 L86.07 22.2 L86.23 22.31 L86.4 21.99 L86.56 22.54 L86.73 19.02 L86.9 18.82 L87.06 19.14 L87.23 19.65 L87.39 18.05 L87.56 18.44 L87.73 19.97 L87.89 21.74 L88.06 20.32 L88.22 22.92 L88.39 22.96 L88.56 18.6 L88.72 19.1 L88.89 16.33 L89.05 17.17 L89.22 21.1 L89.38 22.34 L89.55 22.23 L89.72 22.13 L89.88 19.82 L90.05 19.85 L90.21 17.4 L90.38 17.05 L90.55 19.23 L90.71 18.54 L90.88 17.53 L91.04 16 L91.21 18.66 L91.38 16.46 L91.54 21.46 L91.71 19.81 L91.87 20.3 L92.04 22.2 L92.21 22.29 L92.37 19.2 L92.54 18.02 L92.7 14.91 L92.87 15.25 L93.04 14.91 L93.2 14.91 L93.37 14.91 L93.53 14.91 L93.7 16.35 L93.87 17.88 L94.03 17.04 L94.2 17.49 L94.36 17.31 L94.53 17.84 L94.7 17.23 L94.86 18.24 L95.03 19.95 L95.19 18.52 L95.36 20.45 L95.52 20.14 L95.69 19.84 L95.86 19.54 L96.02 18.02 L96.19 18.94 L96.35 14.94 L96.52 15.22 L96.69 15.99 L96.85 14.13 L97.02 15.95 L97.18 17.38 L97.35 17.54 L97.52 15.25 L97.68 15.09 L97.85 14.6 L98.01 13.81 L98.18 13.89 L98.35 13.96 L98.51 14.04 L98.68 14.12 L98.84 14.84 L99.01 14.56 L99.18 14.56 L99.34 14.44 L99.51 14.36 L99.67 14.29 L99.84 14.21 L100.01 14.28 L100.17 14.07 L100.34 15.23 L100.5 14.13 L100.67 15.16 L100.84 14.42 L101 14.82 L101.17 14.17 L101.33 13.65 L101.5 14.28 L101.66 13.96 L101.83 13.69 L102 14.15 L102.16 13.7 L102.33 13.69 L102.49 13.73 L102.66 13.73 L102.83 13.34 L102.99 13.33 L103.16 13.42 L103.32 13.5 L103.49 14.04 L103.66 14.19 L103.82 15.21 L103.99 15.21 L104.15 15.32 L104.32 15.34 L104.49 14.38 L104.65 14.22 L104.82 14.18 L104.98 14.42 L105.15 13.87 L105.32 14.48 L105.48 14.43 L105.65 14.25 L105.81 14.54 L105.98 13.95 L106.15 13.64 L106.31 13.55 L106.48 13.26 L106.64 13.29 L106.81 13.81 L106.97 14.06 L107.14 14.13 L107.31 14.67 L107.47 15.11 L107.64 14.69 L107.8 14.26 L107.97 14.6 L108.14 13.87 L108.3 15.02 L108.47 14.51 L108.63 13.76 L108.8 13.62 L108.97 13.61 L109.13 13.47 L109.3 13.79 L109.46 14.27 L109.63 14.87 L109.8 14.95 L109.96 14.05 L110.13 13.57 L110.29 13.59 L110.46 13.59 L110.63 13.53 L110.79 13.73 L110.96 14.17 L111.12 13.46 L111.29 13.52 L111.46 13.82 L111.62 13.32 L111.79 13.34 L111.95 13.33 L112.12 13.37 L112.29 13.46 L112.45 13.27 L112.62 13.64 L112.78 13.33 L112.95 13.26 L113.11 13.26 L113.28 13.36 L113.45 13.87 L113.61 13.59 L113.78 14.02 L113.94 14.98 L114.11 15.04 L114.28 14.11 L114.44 13.76 L114.61 14.14 L114.77 14.15 L114.94 13.46 L115.11 13.75 L115.27 13.43 L115.44 13.71 L115.6 13.34 L115.77 13.29 L115.94 13.38 L116.1 13.71 L116.27 13.35 L116.43 13.63 L116.6 14.06 L116.77 15.02 L116.93 14.3 L117.1 14.4 L117.26 14.59 L117.43 14.85 L117.6 13.77 L117.76 13.65 L117.93 13.57 L118.09 13.73 L118.26 13.97 L118.43 14.53 L118.59 13.73 L118.76 13.67 L118.92 13.33 L119.09 13.98 L119.25 14 L119.42 15.14 L119.59 15.14 L119.75 14.6 L119.92 15.14 L120.08 14.54 L120.25 15 L120.42 15.12 L120.58 14.14 L120.75 14.06 L120.91 14.08 L121.08 13.73 L121.25 13.53 L121.41 13.5 L121.58 13.69 L121.74 14.58 L121.91 14.06 L122.08 13.81 L122.24 13.4 L122.41 13.29 L122.57 13.37 L122.74 14.14 L122.91 14.48 L123.07 13.7 L123.24 13.54 L123.4 13.37 L123.57 13.29 L123.74 13.26 L123.9 13.34 L124.07 14.23 L124.23 13.81 L124.4 14.19 L124.57 14.89 L124.73 14.98 L124.9 14.45 L125.06 14.48 L125.23 14.37 L125.39 13.83 L125.56 14.61 L125.73 14.64 L125.89 14.73 L126.06 15.68 L126.22 15.29 L126.39 14.57 L126.56 15.58 L126.72 15.33 L126.89 15.22 L127.05 15.07 L127.22 13.99 L127.39 13.88 L127.55 13.41 L127.72 13.38 L127.88 13.48 L128.05 13.34 L128.22 13.23 L128.38 13.29 L128.55 13.65 L128.71 13.63 L128.88 13.98 L129.05 13.33 L129.21 13.93 L129.38 13.69 L129.54 14.78 L129.71 14.82 L129.88 14.48 L130.04 14.74 L130.21 14.79 L130.37 14.29 L130.54 13.63 L130.71 13.92 L130.87 13.58 L131.04 13.42 L131.2 13.48 L131.37 14.04 L131.53 13.84 L131.7 14.13 L131.87 13.33 L132.03 13.13 L132.2 13.48 L132.36 13.2 L132.53 13.49 L132.7 13.33 L132.86 13.48 L133.03 13.42 L133.19 13.06 L133.36 13.09 L133.53 13.13 L133.69 13.91 L133.86 13.96 L134.02 14.21 L134.19 14.11 L134.36 13.75 L134.52 13.66 L134.69 13.6 L134.85 13.42 L135.02 13.72 L135.19 14 L135.35 13.53 L135.52 13.19 L135.68 13.28 L135.85 13.04 L136.02 13.27 L136.18 13.51 L136.35 13.94 L136.51 13.33 L136.68 13.51 L136.84 13.52 L137.01 13.87 L137.18 14.19 L137.34 13.9 L137.51 14.2 L137.67 13.74 L137.84 13.74 L138.01 13.57 L138.17 13.51 L138.34 14.11 L138.5 13.79 L138.67 13.4 L138.84 13.42 L139 13.17 L139.17 12.95 L139.33 13.14 L139.5 13.23 L139.67 13.11 L139.83 12.95 L140 13.01 L140.16 12.93 L140.33 12.95 L140.5 13.07 L140.66 13.57 L140.83 13.79 L140.99 14 L141.16 14.01 L141.33 13.53 L141.49 13.44 L141.66 13.16 L141.82 13.09 L141.99 13.55 L142.16 13.56 L142.32 13.7 L142.49 13.73 L142.65 13.1 L142.82 12.97 L142.98 13.23 L143.15 12.92 L143.32 13.26 L143.48 12.92 L143.65 12.83 L143.81 12.92 L143.98 12.99 L144.15 13.52 L144.31 13.06 L144.48 12.95 L144.64 13.06 L144.81 12.86 L144.98 12.87 L145.14 13.04 L145.31 13.01 L145.47 13.33 L145.64 13.22 L145.81 13.15 L145.97 13.01 L146.14 13.18 L146.3 12.84 L146.47 12.86 L146.64 13.01 L146.8 13.29 L146.97 13.34 L147.13 13.08 L147.3 12.98 L147.47 12.85 L147.63 12.92 L147.8 12.96 L147.96 12.96 L148.13 13.28 L148.3 13.65 L148.46 13.65 L148.63 13.65 L148.79 13.36 L148.96 13.36 L149.12 13.1 L149.29 12.78 L149.46 12.9 L149.62 12.76 L149.79 12.76 L149.95 12.85 L150.12 13.03 L150.29 13.01 L150.45 12.86 L150.62 12.75 L150.78 12.8 L150.95 12.96 L151.12 13.36 L151.28 13.26 L151.45 13.51 L151.61 13.58 L151.78 13.52 L151.95 13.07 L152.11 13.39 L152.28 12.93 L152.44 13.17 L152.61 13.13 L152.78 12.98 L152.94 12.92 L153.11 12.87 L153.27 12.9 L153.44 13.08 L153.61 12.93 L153.77 12.8 L153.94 12.75 L154.1 12.95 L154.27 13.06 L154.44 13.16 L154.6 13.21 L154.77 12.95 L154.93 13.05 L155.1 12.87 L155.26 12.82 L155.43 12.74 L155.6 12.79 L155.76 12.95 L155.93 13.11 L156.09 13.37 L156.26 13.11 L156.43 13.23 L156.59 13.39 L156.76 12.99 L156.92 13.04 L157.09 13.09 L157.26 12.97 L157.42 12.84 L157.59 12.92 L157.75 13.22 L157.92 13.22 L158.09 13.2 L158.25 13.23 L158.42 13.17 L158.58 12.94 L158.75 13.23 L158.92 13.04 L159.08 13.01 L159.25 12.77 L159.41 12.85 L159.58 13.14 L159.75 13.24 L159.91 13 L160.08 12.86 L160.24 13.02 L160.41 12.81 L160.58 12.95 L160.74 12.72 L160.91 12.85 L161.07 12.72 L161.24 12.67 L161.4 12.67 L161.57 12.68 L161.74 12.67 L161.9 12.67 L162.07 12.71 L162.23 12.91 L162.4 13.06 L162.57 12.99 L162.73 13.25 L162.9 13.26 L163.06 13.18 L163.23 13.3 L163.4 13.13 L163.56 13.12 L163.73 13.06 L163.89 13.18 L164.06 13.02 L164.23 12.99 L164.39 13.03 L164.56 12.98 L164.72 12.76 L164.89 13 L165.06 12.95 L165.22 12.78 L165.39 12.9 L165.55 12.91 L165.72 12.82 L165.89 13.08 L166.05 12.87 L166.22 12.93 L166.38 13 L166.55 13.08 L166.71 12.93 L166.88 12.81 L167.05 12.64 L167.21 12.64 L167.38 12.64 L167.54 12.64 L167.71 12.68 L167.88 12.68 L168.04 12.83 L168.21 12.66 L168.37 12.68 L168.54 12.63 L168.71 12.68 L168.87 12.68 L169.04 12.95 L169.2 12.88 L169.37 12.84 L169.54 12.79 L169.7 12.73 L169.87 12.79 L170.03 12.68 L170.2 12.71 L170.37 12.98 L170.53 12.78 L170.7 12.95 L170.86 12.72 L171.03 12.79 L171.2 12.68 L171.36 12.76 L171.53 12.8 L171.69 12.91 L171.86 12.76 L172.03 12.87 L172.19 13.14 L172.36 13.15 L172.52 13.15 L172.69 13.11 L172.85 13.03 L173.02 12.85 L173.19 12.8 L173.35 12.95 L173.52 12.84 L173.68 12.76 L173.85 12.95 L174.02 12.67 L174.18 12.7 L174.35 12.62 L174.51 12.65 L174.68 12.67 L174.85 12.86 L175.01 12.88 L175.18 13.03 L175.34 12.9 L175.51 12.98 L175.68 12.8 L175.84 12.89 L176.01 12.76 L176.17 12.78 L176.34 12.62 L176.51 12.65 L176.67 12.76 L176.84 12.65 L177 12.69 L177.17 12.68 L177.34 12.64 L177.5 12.69 L177.67 12.9 L177.83 12.97 L178 13.07 L178.17 12.99 L178.33 12.91 L178.5 12.86 L178.66 12.91 L178.83 13.06 L178.99 13 L179.16 12.86 L179.33 12.88 L179.49 12.93 L179.66 12.97 L179.82 12.76 L179.99 12.94 L180.16 12.88 L180.32 12.8 L180.49 12.81 L180.65 12.86 L180.82 12.82 L180.99 12.74 L181.15 12.68 L181.32 12.8 L181.48 12.82 L181.65 12.71 L181.82 12.61 L181.98 12.6 L182.15 12.6 L182.31 12.63 L182.48 12.59 L182.65 12.62 L182.81 12.7 L182.98 12.77 L183.14 12.75 L183.31 12.69 L183.48 12.7 L183.64 12.72 L183.81 12.61 L183.97 12.61 L184.14 12.6 L184.31 12.62 L184.47 12.64 L184.64 12.66 L184.8 12.7 L184.97 12.68 L185.13 12.6 L185.3 12.61 L185.47 12.65 L185.63 12.72 L185.8 12.71 L185.96 12.68 L186.13 12.61 L186.3 12.63 L186.46 12.82 L186.63 12.74 L186.79 12.74 L186.96 12.63 L187.13 12.7 L187.29 12.67 L187.46 12.72 L187.62 12.68 L187.79 12.7 L187.96 12.61 L188.12 12.68 L188.29 12.66 L188.45 12.77 L188.62 12.84 L188.79 12.68 L188.95 12.67 L189.12 12.71 L189.28 12.67 L189.45 12.72 L189.62 12.75 L189.78 12.79 L189.95 12.77 L190.11 12.9 L190.28 12.72 L190.45 12.87 L190.61 12.84 L190.78 12.81 L190.94 12.72 L191.11 12.67 L191.27 12.63 L191.44 12.74 L191.61 12.75 L191.77 12.78 L191.94 12.74 L192.1 12.73 L192.27 12.79 L192.44 12.63 L192.6 12.67 L192.77 12.63 L192.93 12.62 L193.1 12.75 L193.27 12.86 L193.43 12.85 L193.6 12.75 L193.76 12.71 L193.93 12.66 L194.1 12.62 L194.26 12.59 L194.43 12.62 L194.59 12.61 L194.76 12.66 L194.93 12.68 L195.09 12.56 L195.26 12.57 L195.42 12.56 L195.59 12.56 L195.76 12.56 L195.92 12.61 L196.09 12.58 L196.25 12.68 L196.42 12.72 L196.58 12.8 L196.75 12.65 L196.92 12.6 L197.08 12.66 L197.25 12.61 L197.41 12.67 L197.58 12.68 L197.75 12.68 L197.91 12.63 L198.08 12.62 L198.24 12.56 L198.41 12.55 L198.58 12.57 L198.74 12.57 L198.91 12.57 L199.07 12.68 L199.24 12.68 L199.41 12.68 L199.57 12.67 L199.74 12.62 L199.9 12.63 L200.07 12.64 L200.24 12.63 L200.4 12.68 L200.57 12.69 L200.73 12.67 L200.9 12.65 L201.07 12.6 L201.23 12.56 L201.4 12.58 L201.56 12.57 L201.73 12.6 L201.9 12.62 L202.06 12.57 L202.23 12.6 L202.39 12.59 L202.56 12.6 L202.72 12.64 L202.89 12.7 L203.06 12.72 L203.22 12.73 L203.39 12.76 L203.55 12.69 L203.72 12.66 L203.89 12.61 L204.05 12.61 L204.22 12.64 L204.38 12.6 L204.55 12.64 L204.72 12.67 L204.88 12.69 L205.05 12.68 L205.21 12.74 L205.38 12.69 L205.55 12.63 L205.71 12.64 L205.88 12.61 L206.04 12.61 L206.21 12.76 L206.38 12.76 L206.54 12.75 L206.71 12.74 L206.87 12.72 L207.04 12.59 L207.21 12.61 L207.37 12.62 L207.54 12.59 L207.7 12.63 L207.87 12.67 L208.04 12.7 L208.2 12.64 L208.37 12.61 L208.53 12.67 L208.7 12.64 L208.86 12.62 L209.03 12.61 L209.2 12.58 L209.36 12.69 L209.53 12.65 L209.69 12.62 L209.86 12.63 L210.03 12.67 L210.19 12.6 L210.36 12.65 L210.52 12.63 L210.69 12.56 L210.86 12.59 L211.02 12.57 L211.19 12.57 L211.35 12.64 L211.52 12.59 L211.69 12.66 L211.85 12.75 L212.02 12.68 L212.18 12.74 L212.35 12.67 L212.52 12.63 L212.68 12.59 L212.85 12.58 L213.01 12.55 L213.18 12.57 L213.35 12.6 L213.51 12.62 L213.68 12.61 L213.84 12.59 L214.01 12.61 L214.18 12.56 L214.34 12.57 L214.51 12.56 L214.67 12.63 L214.84 12.62 L215 12.62 L215.17 12.59 L215.34 12.59 L215.5 12.56 L215.67 12.56 L215.83 12.55 L216 12.57 L216.17 12.55 L216.33 12.6 L216.5 12.6 L216.66 12.59 L216.83 12.59 L217 12.62 L217.16 12.58 L217.33 12.64 L217.49 12.62 L217.66 12.63 L217.83 12.61 L217.99 12.6 L218.16 12.64 L218.32 12.56 L218.49 12.55 L218.66 12.55 L218.82 12.55 L218.99 12.55 L219.15 12.56 L219.32 12.58 L219.49 12.57 L219.65 12.6 L219.82 12.61 L219.98 12.67 L220.15 12.64 L220.32 12.64 L220.48 12.64 L220.65 12.61 L220.81 12.58 L220.98 12.57 L221.14 12.6 L221.31 12.59 L221.48 12.6 L221.64 12.65 L221.81 12.59 L221.97 12.59 L222.14 12.64 L222.31 12.58 L222.47 12.57 L222.64 12.59 L222.8 12.57 L222.97 12.61 L223.14 12.55 L223.3 12.55 L223.47 12.56 L223.63 12.64 L223.8 12.61 L223.97 12.62 L224.13 12.56 L224.3 12.56 L224.46 12.59 L224.63 12.62 L224.8 12.63 L224.96 12.6 L225.13 12.6 L225.29 12.63 L225.46 12.61 L225.63 12.62 L225.79 12.6 L225.96 12.69 L226.12 12.6 L226.29 12.59 L226.45 12.61 L226.62 12.64 L226.79 12.57 L226.95 12.6 L227.12 12.61 L227.28 12.59 L227.45 12.63 L227.62 12.61 L227.78 12.65 L227.95 12.62 L228.11 12.61 L228.28 12.59 L228.45 12.57 L228.61 12.56 L228.78 12.55 L228.94 12.55 L229.11 12.55 L229.28 12.55 L229.44 12.55 L229.61 12.58 L229.77 12.6 L229.94 12.64 L230.11 12.65 L230.27 12.62 L230.44 12.6 L230.6 12.6 L230.77 12.64 L230.94 12.63 L231.1 12.68 L231.27 12.62 L231.43 12.64 L231.6 12.58 L231.77 12.61 L231.93 12.59 L232.1 12.57 L232.26 12.61 L232.43 12.58 L232.59 12.63 L232.76 12.59 L232.93 12.58 L233.09 12.57 L233.26 12.57 L233.42 12.57 L233.59 12.56 L233.76 12.58 L233.92 12.57 L234.09 12.62 L234.25 12.62 L234.42 12.65 L234.59 12.58 L234.75 12.6 L234.92 12.6 L235.08 12.6 L235.25 12.58 L235.42 12.61 L235.58 12.63 L235.75 12.58 L235.91 12.64 L236.08 12.6 L236.25 12.59 L236.41 12.6 L236.58 12.56 L236.74 12.57 L236.91 12.57 L237.08 12.62 L237.24 12.58 L237.41 12.58 L237.57 12.56 L237.74 12.56 L237.91 12.57 L238.07 12.55 L238.24 12.57 L238.4 12.61 L238.57 12.63 L238.73 12.65 L238.9 12.66 L239.07 12.62 L239.23 12.65 L239.4 12.59 L239.56 12.58 L239.73 12.57 L239.9 12.63 L240.06 12.66 L240.23 12.61 L240.39 12.6 L240.56 12.61 L240.73 12.56 L240.89 12.56 L241.06 12.56 L241.22 12.56 L241.39 12.55 L241.56 12.56 L241.72 12.56 L241.89 12.56 L242.05 12.56 L242.22 12.6 L242.39 12.58 L242.55 12.56 L242.72 12.57 L242.88 12.56 L243.05 12.57 L243.22 12.59 L243.38 12.58 L243.55 12.57 L243.71 12.56 L243.88 12.56 L244.05 12.58 L244.21 12.59 L244.38 12.61 L244.54 12.56 L244.71 12.6 L244.87 12.57 L245.04 12.58 L245.21 12.56 L245.37 12.56 L245.54 12.55 L245.7 12.55 L245.87 12.55 L246.04 12.55 L246.2 12.55 L246.37 12.56 L246.53 12.56 L246.7 12.58 L246.87 12.56 L247.03 12.57 L247.2 12.61 L247.36 12.61 L247.53 12.61 L247.7 12.6 L247.86 12.58 L248.03 12.58 L248.19 12.58 L248.36 12.58 L248.53 12.56 L248.69 12.55 L248.86 12.56 L249.02 12.56 L249.19 12.57 L249.36 12.56 L249.52 12.6 L249.69 12.59 L249.85 12.6 L250.02 12.6 L250.19 12.58 L250.35 12.56 L250.52 12.56 L250.68 12.57 L250.85 12.58 L251.01 12.57 L251.18 12.56 L251.35 12.56 L251.51 12.57 L251.68 12.56 L251.84 12.55 L252.01 12.55 L252.18 12.55 L252.34 12.58 L252.51 12.58 L252.67 12.57 L252.84 12.59 L253.01 12.57 L253.17 12.55 L253.34 12.57 L253.5 12.57 L253.67 12.58 L253.84 12.61 L254 12.56 L254.17 12.59 L254.33 12.55 L254.5 12.55 L254.67 12.56 L254.83 12.58 L255 12.56 L255.16 12.55 L255.33 12.57 L255.5 12.56 L255.66 12.56 L255.83 12.56 L255.99 12.58 L256.16 12.56 L256.32 12.58 L256.49 12.56 L256.66 12.55 L256.82 12.55 L256.99 12.57 L257.15 12.57 L257.32 12.57 L257.49 12.57 L257.65 12.6 L257.82 12.63 L257.98 12.64 L258.15 12.64 L258.32 12.64 L258.48 12.61 L258.65 12.57 L258.81 12.59 L258.98 12.56 L259.15 12.57 L259.31 12.57 L259.48 12.57 L259.64 12.58 L259.81 12.59 L259.98 12.61 L260.14 12.63 L260.31 12.62 L260.47 12.58 L260.64 12.56 L260.81 12.57 L260.97 12.57 L261.14 12.58 L261.3 12.57 L261.47 12.59 L261.64 12.58 L261.8 12.59 L261.97 12.59 L262.13 12.63 L262.3 12.6 L262.46 12.57 L262.63 12.6 L262.8 12.57 L262.96 12.56 L263.13 12.55 L263.29 12.55 L263.46 12.56 L263.63 12.56 L263.79 12.58 L263.96 12.58 L264.12 12.57 L264.29 12.57 L264.46 12.58 L264.62 12.59 L264.79 12.58 L264.95 12.6 L265.12 12.6 L265.29 12.57 L265.45 12.57 L265.62 12.55 L265.78 12.56 L265.95 12.55 L266.12 12.55 L266.28 12.57 L266.45 12.57 L266.61 12.58 L266.78 12.59 L266.95 12.58 L267.11 12.55 L267.28 12.55 L267.44 12.55 L267.61 12.57 L267.78 12.59 L267.94 12.61 L268.11 12.59 L268.27 12.59 L268.44 12.57 L268.6 12.58 L268.77 12.59 L268.94 12.57 L269.1 12.58 L269.27 12.58 L269.43 12.57 L269.6 12.57 L269.77 12.56 L269.93 12.56 L270.1 12.55 L270.26 12.57 L270.43 12.55 L270.6 12.55 L270.76 12.57 L270.93 12.6 L271.09 12.59 L271.26 12.56 L271.43 12.55 L271.59 12.56 L271.76 12.55 L271.92 12.58 L272.09 12.57 L272.26 12.58 L272.42 12.56 L272.59 12.57 L272.75 12.57 L272.92 12.58 L273.09 12.59 L273.25 12.58 L273.42 12.57 L273.58 12.57 L273.75 12.58 L273.92 12.58 L274.08 12.56 L274.25 12.56 L274.41 12.56 L274.58 12.57 L274.74 12.57 L274.91 12.58 L275.08 12.59 L275.24 12.6 L275.41 12.59 L275.57 12.61 L275.74 12.59 L275.91 12.6 L276.07 12.57 L276.24 12.56 L276.4 12.57 L276.57 12.55 L276.74 12.55 L276.9 12.56 L277.07 12.56 L277.23 12.56 L277.4 12.57 L277.57 12.57 L277.73 12.56 L277.9 12.55 L278.06 12.55 L278.23 12.56 L278.4 12.56 L278.56 12.56 L278.73 12.56 L278.89 12.56 L279.06 12.57 L279.23 12.57 L279.39 12.56 L279.56 12.56 L279.72 12.57 L279.89 12.57 L280.06 12.57 L280.22 12.56 L280.39 12.59 L280.55 12.62 L280.72 12.59 L280.88 12.61 L281.05 12.62 L281.22 12.62 L281.38 12.59 L281.55 12.59 L281.71 12.61 L281.88 12.62 L282.05 12.61 L282.21 12.59 L282.38 12.6 L282.54 12.56 L282.71 12.57 L282.88 12.56 L283.04 12.56 L283.21 12.57 L283.37 12.56 L283.54 12.56 L283.71 12.55 L283.87 12.56 L284.04 12.57 L284.2 12.59 L284.37 12.57 L284.54 12.6 L284.7 12.6 L284.87 12.6 L285.03 12.6 L285.2 12.56 L285.37 12.56 L285.53 12.55 L285.7 12.55 L285.86 12.55 L286.03 12.55 L286.19 12.58 L286.36 12.57 L286.53 12.58 L286.69 12.58 L286.86 12.58 L287.02 12.59 L287.19 12.56 L287.36 12.57 L287.52 12.57 L287.69 12.6 L287.85 12.61 L288.02 12.58 L288.19 12.6 L288.35 12.56 L288.52 12.57 L288.68 12.57 L288.85 12.59 L289.02 12.58 L289.18 12.59 L289.35 12.61 L289.51 12.59 L289.68 12.61 L289.85 12.61 L290.01 12.61 L290.18 12.58 L290.34 12.56 L290.51 12.57 L290.68 12.55 L290.84 12.56 L291.01 12.55 L291.17 12.56 L291.34 12.56 L291.51 12.57 L291.67 12.56 L291.84 12.58 L292 12.57 L292.17 12.56 L292.33 12.56 L292.5 12.58 L292.67 12.57 L292.83 12.57 L293 12.59 L293.16 12.59 L293.33 12.6 L293.5 12.6 L293.66 12.6 L293.83 12.57 L293.99 12.59 L294.16 12.57 L294.33 12.59 L294.49 12.58 L294.66 12.58 L294.82 12.56 L294.99 12.56 L295.16 12.56 L295.32 12.55 L295.49 12.55 L295.65 12.55 L295.82 12.55 L295.99 12.55 L296.15 12.56 L296.32 12.56 L296.48 12.56 L296.65 12.58 L296.82 12.57 L296.98 12.56 L297.15 12.56 L297.31 12.55 L297.48 12.55 L297.65 12.55 L297.81 12.56 L297.98 12.57 L298.14 12.56 L298.31 12.6 L298.47 12.58 L298.64 12.58 L298.81 12.57 L298.97 12.57 L299.14 12.57 L299.3 12.58 L299.47 12.57 L299.64 12.57 L299.8 12.56 L299.97 12.55 L300.13 12.56 L300.3 12.56 L300.47 12.56 L300.63 12.57 L300.8 12.57 L300.96 12.56 L301.13 12.56 L301.3 12.56 L301.46 12.56 L301.63 12.55 L301.79 12.55 L301.96 12.56 L302.13 12.56 L302.29 12.57 L302.46 12.56 L302.62 12.56 L302.79 12.55 L302.96 12.55 L303.12 12.57 L303.29 12.59 L303.45 12.57 L303.62 12.56 L303.79 12.55 L303.95 12.55 L304.12 12.57 L304.28 12.57 L304.45 12.59 L304.61 12.58 L304.78 12.57 L304.95 12.58 L305.11 12.57 L305.28 12.56 L305.44 12.58 L305.61 12.59 L305.78 12.58 L305.94 12.57 L306.11 12.57 L306.27 12.56 L306.44 12.55 L306.61 12.56 L306.77 12.55 L306.94 12.55 L307.1 12.55 L307.27 12.55 L307.44 12.56 L307.6 12.57 L307.77 12.57 L307.93 12.56 L308.1 12.56 L308.27 12.58 L308.43 12.58 L308.6 12.57 L308.76 12.57 L308.93 12.56 L309.1 12.57 L309.26 12.56 L309.43 12.56" stroke="#254da0" stroke-width="2.1" fill="none" stroke-linejoin="round" stroke-linecap="butt"/>
<rect x="185.4" y="65.3" width="140.9" height="27.5" fill="#fff" stroke="#333" stroke-width="0.9"/>
<path d="M188.8 72.45h27.8" stroke="#ea3633" stroke-width="2.1"/>
<path d="M188.8 84h27.8" stroke="#254da0" stroke-width="2.1"/>
<text x="218.8" y="76.35" font-size="8.25" xml:space="preserve">Exploration  (Avg 2.7122%)</text>
<text x="218.8" y="87.9" font-size="8.25" xml:space="preserve">Exploitation (Avg 97.2878%)</text>
<rect x="379.5" y="12.4" width="298.6" height="235.8" fill="none" stroke="#444" stroke-width="1"/>
<text x="375.5" y="251.4" text-anchor="end" font-size="9.0">0</text>
<text x="375.5" y="227.82" text-anchor="end" font-size="9.0">10</text>
<text x="375.5" y="204.24" text-anchor="end" font-size="9.0">20</text>
<text x="375.5" y="180.66" text-anchor="end" font-size="9.0">30</text>
<text x="375.5" y="157.08" text-anchor="end" font-size="9.0">40</text>
<text x="375.5" y="133.5" text-anchor="end" font-size="9.0">50</text>
<text x="375.5" y="109.92" text-anchor="end" font-size="9.0">60</text>
<text x="375.5" y="86.34" text-anchor="end" font-size="9.0">70</text>
<text x="375.5" y="62.76" text-anchor="end" font-size="9.0">80</text>
<text x="375.5" y="39.18" text-anchor="end" font-size="9.0">90</text>
<text x="375.5" y="15.6" text-anchor="end" font-size="9.0">100</text>
<text x="379.5" y="261.2" text-anchor="middle" font-size="9.0">0</text>
<text x="409.36" y="261.2" text-anchor="middle" font-size="9.0">50</text>
<text x="439.22" y="261.2" text-anchor="middle" font-size="9.0">100</text>
<text x="469.08" y="261.2" text-anchor="middle" font-size="9.0">150</text>
<text x="498.94" y="261.2" text-anchor="middle" font-size="9.0">200</text>
<text x="528.8" y="261.2" text-anchor="middle" font-size="9.0">250</text>
<text x="558.66" y="261.2" text-anchor="middle" font-size="9.0">300</text>
<text x="588.52" y="261.2" text-anchor="middle" font-size="9.0">350</text>
<text x="618.38" y="261.2" text-anchor="middle" font-size="9.0">400</text>
<text x="648.24" y="261.2" text-anchor="middle" font-size="9.0">450</text>
<text x="678.1" y="261.2" text-anchor="middle" font-size="9.0">500</text>
<path d="M379.5 248.2h3.1M678.1 248.2h-3.1M379.5 224.62h3.1M678.1 224.62h-3.1M379.5 201.04h3.1M678.1 201.04h-3.1M379.5 177.46h3.1M678.1 177.46h-3.1M379.5 153.88h3.1M678.1 153.88h-3.1M379.5 130.3h3.1M678.1 130.3h-3.1M379.5 106.72h3.1M678.1 106.72h-3.1M379.5 83.14h3.1M678.1 83.14h-3.1M379.5 59.56h3.1M678.1 59.56h-3.1M379.5 35.98h3.1M678.1 35.98h-3.1M379.5 12.4h3.1M678.1 12.4h-3.1M379.5 248.2v-3.1M379.5 12.4v3.1M409.36 248.2v-3.1M409.36 12.4v3.1M439.22 248.2v-3.1M439.22 12.4v3.1M469.08 248.2v-3.1M469.08 12.4v3.1M498.94 248.2v-3.1M498.94 12.4v3.1M528.8 248.2v-3.1M528.8 12.4v3.1M558.66 248.2v-3.1M558.66 12.4v3.1M588.52 248.2v-3.1M588.52 12.4v3.1M618.38 248.2v-3.1M618.38 12.4v3.1M648.24 248.2v-3.1M648.24 12.4v3.1M678.1 248.2v-3.1M678.1 12.4v3.1" stroke="#444" stroke-width="1" fill="none"/>
<text x="528.8" y="7.7" text-anchor="middle" font-size="10.4" font-weight="bold">TLBO Hybrid</text>
<text x="529.5" y="275.9" text-anchor="middle" font-size="10.3">Iterations</text>
<text transform="translate(354.1 135.8) rotate(-90)" text-anchor="middle" font-size="10.3">Percentage</text>
<path d="M380.1 12.4 L380.28 49.78 L380.45 78.22 L380.63 98.8 L380.81 115.38 L380.99 125.45 L381.17 130.38 L381.35 133.96 L381.52 136.72 L381.7 139.2 L381.88 141.95 L382.06 144.93 L382.24 147.78 L382.42 150.65 L382.59 153.67 L382.77 156.94 L382.95 160.38 L383.13 163.94 L383.31 167.57 L383.49 171.2 L383.66 174.79 L383.84 178.28 L384.02 181.87 L384.2 185.43 L384.38 188.68 L384.56 191.42 L384.73 193.9 L384.91 196.19 L385.09 198.28 L385.27 200.2 L385.45 201.94 L385.63 203.54 L385.8 205.02 L385.98 206.41 L386.16 207.74 L386.34 209.04 L386.52 210.34 L386.7 211.67 L386.87 213.05 L387.05 214.5 L387.23 215.99 L387.41 217.49 L387.59 218.98 L387.77 220.45 L387.94 221.85 L388.12 223.17 L388.3 224.38 L388.48 225.49 L388.66 226.6 L388.83 227.69 L389.01 228.75 L389.19 229.78 L389.37 230.78 L389.55 231.74 L389.73 232.65 L389.9 233.51 L390.08 234.3 L390.26 235.03 L390.44 235.69 L390.62 236.26 L390.8 236.77 L390.97 237.26 L391.15 237.73 L391.33 238.17 L391.51 238.59 L391.69 238.99 L391.87 239.37 L392.04 239.73 L392.22 240.07 L392.4 240.39 L392.58 240.69 L392.76 240.97 L392.94 241.23 L393.11 241.47 L393.29 241.69 L393.47 241.9 L393.65 242.09 L393.83 242.28 L394.01 242.47 L394.18 242.65 L394.36 242.82 L394.54 242.99 L394.72 243.15 L394.9 243.31 L395.08 243.47 L395.25 243.61 L395.43 243.76 L395.61 243.89 L395.79 244.03 L395.97 244.15 L396.15 244.28 L396.32 244.39 L396.5 244.51 L396.68 244.61 L396.86 244.71 L397.04 244.81 L397.22 244.9 L397.39 244.99 L397.57 245.07 L397.75 245.15 L397.93 245.22 L398.11 245.29 L398.29 245.35 L398.46 245.42 L398.64 245.48 L398.82 245.54 L399 245.6 L399.18 245.65 L399.36 245.71 L399.53 245.76 L399.71 245.81 L399.89 245.86 L400.07 245.91 L400.25 245.96 L400.43 246.01 L400.6 246.05 L400.78 246.09 L400.96 246.14 L401.14 246.18 L401.32 246.22 L401.5 246.26 L401.67 246.29 L401.85 246.33 L402.03 246.37 L402.21 246.4 L402.39 246.43 L402.57 246.47 L402.74 246.5 L402.92 246.53 L403.1 246.56 L403.28 246.59 L403.46 246.62 L403.64 246.65 L403.81 246.68 L403.99 246.71 L404.17 246.73 L404.35 246.76 L404.53 246.79 L404.71 246.81 L404.88 246.84 L405.06 246.87 L405.24 246.89 L405.42 246.92 L405.6 246.94 L405.78 246.97 L405.95 246.99 L406.13 247.02 L406.31 247.04 L406.49 247.06 L406.67 247.09 L406.85 247.11 L407.02 247.13 L407.2 247.15 L407.38 247.17 L407.56 247.19 L407.74 247.21 L407.92 247.24 L408.09 247.26 L408.27 247.27 L408.45 247.29 L408.63 247.31 L408.81 247.33 L408.99 247.35 L409.16 247.37 L409.34 247.38 L409.52 247.4 L409.7 247.41 L409.88 247.43 L410.06 247.44 L410.23 247.46 L410.41 247.47 L410.59 247.49 L410.77 247.5 L410.95 247.51 L411.13 247.52 L411.3 247.54 L411.48 247.55 L411.66 247.56 L411.84 247.57 L412.02 247.58 L412.2 247.59 L412.37 247.6 L412.55 247.61 L412.73 247.62 L412.91 247.63 L413.09 247.64 L413.27 247.64 L413.44 247.65 L413.62 247.66 L413.8 247.67 L413.98 247.68 L414.16 247.69 L414.34 247.7 L414.51 247.7 L414.69 247.71 L414.87 247.72 L415.05 247.73 L415.23 247.73 L415.41 247.74 L415.58 247.75 L415.76 247.76 L415.94 247.76 L416.12 247.77 L416.3 247.78 L416.47 247.78 L416.65 247.79 L416.83 247.8 L417.01 247.8 L417.19 247.81 L417.37 247.81 L417.54 247.82 L417.72 247.83 L417.9 247.83 L418.08 247.84 L418.26 247.84 L418.44 247.85 L418.61 247.85 L418.79 247.86 L418.97 247.86 L419.15 247.87 L419.33 247.87 L419.51 247.88 L419.68 247.88 L419.86 247.89 L420.04 247.89 L420.22 247.89 L420.4 247.9 L420.58 247.9 L420.75 247.91 L420.93 247.91 L421.11 247.91 L421.29 247.92 L421.47 247.92 L421.65 247.92 L421.82 247.93 L422 247.93 L422.18 247.93 L422.36 247.94 L422.54 247.94 L422.72 247.94 L422.89 247.95 L423.07 247.95 L423.25 247.95 L423.43 247.96 L423.61 247.96 L423.79 247.96 L423.96 247.96 L424.14 247.97 L424.32 247.97 L424.5 247.97 L424.68 247.98 L424.86 247.98 L425.03 247.98 L425.21 247.99 L425.39 247.99 L425.57 247.99 L425.75 247.99 L425.93 248 L426.1 248 L426.28 248 L426.46 248 L426.64 248.01 L426.82 248.01 L427 248.01 L427.17 248.02 L427.35 248.02 L427.53 248.02 L427.71 248.02 L427.89 248.03 L428.07 248.03 L428.24 248.03 L428.42 248.03 L428.6 248.04 L428.78 248.04 L428.96 248.04 L429.14 248.04 L429.31 248.04 L429.49 248.05 L429.67 248.05 L429.85 248.05 L430.03 248.05 L430.21 248.06 L430.38 248.06 L430.56 248.06 L430.74 248.06 L430.92 248.06 L431.1 248.07 L431.28 248.07 L431.45 248.07 L431.63 248.07 L431.81 248.07 L431.99 248.08 L432.17 248.08 L432.35 248.08 L432.52 248.08 L432.7 248.08 L432.88 248.08 L433.06 248.09 L433.24 248.09 L433.42 248.09 L433.59 248.09 L433.77 248.09 L433.95 248.09 L434.13 248.1 L434.31 248.1 L434.49 248.1 L434.66 248.1 L434.84 248.1 L435.02 248.1 L435.2 248.11 L435.38 248.11 L435.56 248.11 L435.73 248.11 L435.91 248.11 L436.09 248.11 L436.27 248.11 L436.45 248.11 L436.63 248.12 L436.8 248.12 L436.98 248.12 L437.16 248.12 L437.34 248.12 L437.52 248.12 L437.7 248.12 L437.87 248.12 L438.05 248.12 L438.23 248.12 L438.41 248.13 L438.59 248.13 L438.77 248.13 L438.94 248.13 L439.12 248.13 L439.3 248.13 L439.48 248.13 L439.66 248.13 L439.84 248.13 L440.01 248.13 L440.19 248.13 L440.37 248.13 L440.55 248.13 L440.73 248.14 L440.91 248.14 L441.08 248.14 L441.26 248.14 L441.44 248.14 L441.62 248.14 L441.8 248.14 L441.98 248.14 L442.15 248.14 L442.33 248.14 L442.51 248.14 L442.69 248.14 L442.87 248.14 L443.04 248.14 L443.22 248.15 L443.4 248.15 L443.58 248.15 L443.76 248.15 L443.94 248.15 L444.11 248.15 L444.29 248.15 L444.47 248.15 L444.65 248.15 L444.83 248.15 L445.01 248.15 L445.18 248.15 L445.36 248.15 L445.54 248.15 L445.72 248.15 L445.9 248.16 L446.08 248.16 L446.25 248.16 L446.43 248.16 L446.61 248.16 L446.79 248.16 L446.97 248.16 L447.15 248.16 L447.32 248.16 L447.5 248.16 L447.68 248.16 L447.86 248.16 L448.04 248.16 L448.22 248.16 L448.39 248.16 L448.57 248.16 L448.75 248.16 L448.93 248.17 L449.11 248.17 L449.29 248.17 L449.46 248.17 L449.64 248.17 L449.82 248.17 L450 248.17 L450.18 248.17 L450.36 248.17 L450.53 248.17 L450.71 248.17 L450.89 248.17 L451.07 248.17 L451.25 248.17 L451.43 248.17 L451.6 248.17 L451.78 248.17 L451.96 248.17 L452.14 248.17 L452.32 248.18 L452.5 248.18 L452.67 248.18 L452.85 248.18 L453.03 248.18 L453.21 248.18 L453.39 248.18 L453.57 248.18 L453.74 248.18 L453.92 248.18 L454.1 248.18 L454.28 248.18 L454.46 248.18 L454.64 248.18 L454.81 248.18 L454.99 248.18 L455.17 248.18 L455.35 248.18 L455.53 248.18 L455.71 248.18 L455.88 248.18 L456.06 248.18 L456.24 248.19 L456.42 248.19 L456.6 248.19 L456.78 248.19 L456.95 248.19 L457.13 248.19 L457.31 248.19 L457.49 248.19 L457.67 248.19 L457.85 248.19 L458.02 248.19 L458.2 248.19 L458.38 248.19 L458.56 248.19 L458.74 248.19 L458.92 248.19 L459.09 248.19 L459.27 248.19 L459.45 248.19 L459.63 248.19 L459.81 248.19 L459.99 248.19 L460.16 248.19 L460.34 248.19 L460.52 248.19 L460.7 248.19 L460.88 248.19 L461.06 248.19 L461.23 248.19 L461.41 248.19 L461.59 248.19 L461.77 248.2 L461.95 248.2 L462.13 248.2 L462.3 248.2 L462.48 248.2 L462.66 248.2 L462.84 248.2 L463.02 248.2 L463.2 248.2 L463.37 248.2 L463.55 248.2 L463.73 248.2 L463.91 248.2 L464.09 248.2 L464.27 248.2 L464.44 248.2 L464.62 248.2 L464.8 248.2 L464.98 248.2 L465.16 248.2 L465.34 248.2 L465.51 248.2 L465.69 248.2 L465.87 248.2 L466.05 248.2 L466.23 248.2 L466.41 248.2 L466.58 248.2 L466.76 248.2 L466.94 248.2 L467.12 248.2 L467.3 248.2 L467.48 248.2 L467.65 248.2 L467.83 248.2 L468.01 248.2 L468.19 248.2 L468.37 248.2 L468.55 248.2 L468.72 248.2 L468.9 248.2 L469.08 248.2 L678.1 248.2" stroke="#ea3633" stroke-width="2.1" fill="none" stroke-linejoin="round" stroke-linecap="butt"/>
<path d="M380.1 248.2 L380.28 207.78 L380.45 177.67 L380.63 157.37 L380.81 141.44 L380.99 130.49 L381.17 123.31 L381.35 117.71 L381.52 113.11 L381.7 108.92 L381.88 104.58 L382.06 99.94 L382.24 95.39 L382.42 91.04 L382.59 87 L382.77 83.38 L382.95 80.2 L383.13 77.34 L383.31 74.68 L383.49 72.12 L383.66 69.55 L383.84 66.97 L384.02 64.45 L384.2 62.05 L384.38 59.8 L384.56 57.71 L384.73 55.69 L384.91 53.75 L385.09 51.89 L385.27 50.11 L385.45 48.42 L385.63 46.82 L385.8 45.29 L385.98 43.83 L386.16 42.41 L386.34 41.06 L386.52 39.76 L386.7 38.51 L386.87 37.32 L387.05 36.18 L387.23 35.08 L387.41 33.97 L387.59 32.88 L387.77 31.8 L387.94 30.74 L388.12 29.72 L388.3 28.74 L388.48 27.81 L388.66 26.93 L388.83 26.12 L389.01 25.38 L389.19 24.71 L389.37 24.14 L389.55 23.62 L389.73 23.11 L389.9 22.62 L390.08 22.15 L390.26 21.7 L390.44 21.27 L390.62 20.86 L390.8 20.47 L390.97 20.11 L391.15 19.77 L391.33 19.46 L391.51 19.17 L391.69 18.91 L391.87 18.67 L392.04 18.47 L392.22 18.29 L392.4 18.13 L392.58 17.98 L392.76 17.84 L392.94 17.7 L393.11 17.56 L393.29 17.43 L393.47 17.31 L393.65 17.19 L393.83 17.07 L394.01 16.96 L394.18 16.85 L394.36 16.75 L394.54 16.65 L394.72 16.55 L394.9 16.46 L395.08 16.37 L395.25 16.29 L395.43 16.2 L395.61 16.12 L395.79 16.05 L395.97 15.97 L396.15 15.9 L396.32 15.83 L396.5 15.76 L396.68 15.69 L396.86 15.63 L397.04 15.56 L397.22 15.5 L397.39 15.44 L397.57 15.38 L397.75 15.32 L397.93 15.26 L398.11 15.2 L398.29 15.14 L398.46 15.08 L398.64 15.02 L398.82 14.97 L399 14.91 L399.18 14.86 L399.36 14.8 L399.53 14.75 L399.71 14.7 L399.89 14.65 L400.07 14.6 L400.25 14.55 L400.43 14.5 L400.6 14.46 L400.78 14.41 L400.96 14.37 L401.14 14.32 L401.32 14.28 L401.5 14.24 L401.67 14.2 L401.85 14.16 L402.03 14.12 L402.21 14.09 L402.39 14.05 L402.57 14.02 L402.74 13.98 L402.92 13.95 L403.1 13.92 L403.28 13.89 L403.46 13.86 L403.64 13.83 L403.81 13.8 L403.99 13.78 L404.17 13.75 L404.35 13.73 L404.53 13.7 L404.71 13.68 L404.88 13.65 L405.06 13.63 L405.24 13.6 L405.42 13.58 L405.6 13.56 L405.78 13.54 L405.95 13.51 L406.13 13.49 L406.31 13.47 L406.49 13.45 L406.67 13.43 L406.85 13.41 L407.02 13.39 L407.2 13.37 L407.38 13.35 L407.56 13.33 L407.74 13.31 L407.92 13.29 L408.09 13.27 L408.27 13.26 L408.45 13.24 L408.63 13.22 L408.81 13.21 L408.99 13.19 L409.16 13.17 L409.34 13.16 L409.52 13.14 L409.7 13.13 L409.88 13.11 L410.06 13.1 L410.23 13.09 L410.41 13.07 L410.59 13.06 L410.77 13.05 L410.95 13.04 L411.13 13.03 L411.3 13.02 L411.48 13 L411.66 12.99 L411.84 12.98 L412.02 12.97 L412.2 12.97 L412.37 12.96 L412.55 12.95 L412.73 12.94 L412.91 12.93 L413.09 12.92 L413.27 12.91 L413.44 12.9 L413.62 12.89 L413.8 12.88 L413.98 12.87 L414.16 12.87 L414.34 12.86 L414.51 12.85 L414.69 12.84 L414.87 12.83 L415.05 12.83 L415.23 12.82 L415.41 12.81 L415.58 12.8 L415.76 12.8 L415.94 12.79 L416.12 12.78 L416.3 12.77 L416.47 12.77 L416.65 12.76 L416.83 12.75 L417.01 12.75 L417.19 12.74 L417.37 12.74 L417.54 12.73 L417.72 12.72 L417.9 12.72 L418.08 12.71 L418.26 12.71 L418.44 12.7 L418.61 12.7 L418.79 12.69 L418.97 12.69 L419.15 12.68 L419.33 12.68 L419.51 12.67 L419.68 12.67 L419.86 12.66 L420.04 12.66 L420.22 12.66 L420.4 12.65 L420.58 12.65 L420.75 12.65 L420.93 12.64 L421.11 12.64 L421.29 12.64 L421.47 12.63 L421.65 12.63 L421.82 12.63 L422 12.63 L422.18 12.62 L422.36 12.62 L422.54 12.62 L422.72 12.61 L422.89 12.61 L423.07 12.61 L423.25 12.61 L423.43 12.6 L423.61 12.6 L423.79 12.6 L423.96 12.6 L424.14 12.59 L424.32 12.59 L424.5 12.59 L424.68 12.59 L424.86 12.59 L425.03 12.58 L425.21 12.58 L425.39 12.58 L425.57 12.58 L425.75 12.57 L425.93 12.57 L426.1 12.57 L426.28 12.57 L426.46 12.57 L426.64 12.56 L426.82 12.56 L427 12.56 L427.17 12.56 L427.35 12.56 L427.53 12.55 L427.71 12.55 L427.89 12.55 L428.07 12.55 L428.24 12.55 L428.42 12.54 L428.6 12.54 L428.78 12.54 L428.96 12.54 L429.14 12.54 L429.31 12.54 L429.49 12.53 L429.67 12.53 L429.85 12.53 L430.03 12.53 L430.21 12.53 L430.38 12.53 L430.56 12.52 L430.74 12.52 L430.92 12.52 L431.1 12.52 L431.28 12.52 L431.45 12.52 L431.63 12.52 L431.81 12.51 L431.99 12.51 L432.17 12.51 L432.35 12.51 L432.52 12.51 L432.7 12.51 L432.88 12.51 L433.06 12.5 L433.24 12.5 L433.42 12.5 L433.59 12.5 L433.77 12.5 L433.95 12.5 L434.13 12.5 L434.31 12.5 L434.49 12.49 L434.66 12.49 L434.84 12.49 L435.02 12.49 L435.2 12.49 L435.38 12.49 L435.56 12.49 L435.73 12.49 L435.91 12.49 L436.09 12.49 L436.27 12.48 L436.45 12.48 L436.63 12.48 L436.8 12.48 L436.98 12.48 L437.16 12.48 L437.34 12.48 L437.52 12.48 L437.7 12.48 L437.87 12.48 L438.05 12.48 L438.23 12.47 L438.41 12.47 L438.59 12.47 L438.77 12.47 L438.94 12.47 L439.12 12.47 L439.3 12.47 L439.48 12.47 L439.66 12.47 L439.84 12.47 L440.01 12.47 L440.19 12.47 L440.37 12.47 L440.55 12.47 L440.73 12.46 L440.91 12.46 L441.08 12.46 L441.26 12.46 L441.44 12.46 L441.62 12.46 L441.8 12.46 L441.98 12.46 L442.15 12.46 L442.33 12.46 L442.51 12.46 L442.69 12.46 L442.87 12.46 L443.04 12.46 L443.22 12.46 L443.4 12.45 L443.58 12.45 L443.76 12.45 L443.94 12.45 L444.11 12.45 L444.29 12.45 L444.47 12.45 L444.65 12.45 L444.83 12.45 L445.01 12.45 L445.18 12.45 L445.36 12.45 L445.54 12.45 L445.72 12.45 L445.9 12.45 L446.08 12.45 L446.25 12.44 L446.43 12.44 L446.61 12.44 L446.79 12.44 L446.97 12.44 L447.15 12.44 L447.32 12.44 L447.5 12.44 L447.68 12.44 L447.86 12.44 L448.04 12.44 L448.22 12.44 L448.39 12.44 L448.57 12.44 L448.75 12.44 L448.93 12.44 L449.11 12.44 L449.29 12.43 L449.46 12.43 L449.64 12.43 L449.82 12.43 L450 12.43 L450.18 12.43 L450.36 12.43 L450.53 12.43 L450.71 12.43 L450.89 12.43 L451.07 12.43 L451.25 12.43 L451.43 12.43 L451.6 12.43 L451.78 12.43 L451.96 12.43 L452.14 12.43 L452.32 12.43 L452.5 12.42 L452.67 12.42 L452.85 12.42 L453.03 12.42 L453.21 12.42 L453.39 12.42 L453.57 12.42 L453.74 12.42 L453.92 12.42 L454.1 12.42 L454.28 12.42 L454.46 12.42 L454.64 12.42 L454.81 12.42 L454.99 12.42 L455.17 12.42 L455.35 12.42 L455.53 12.42 L455.71 12.42 L455.88 12.42 L456.06 12.42 L456.24 12.42 L456.42 12.42 L456.6 12.41 L456.78 12.41 L456.95 12.41 L457.13 12.41 L457.31 12.41 L457.49 12.41 L457.67 12.41 L457.85 12.41 L458.02 12.41 L458.2 12.41 L458.38 12.41 L458.56 12.41 L458.74 12.41 L458.92 12.41 L459.09 12.41 L459.27 12.41 L459.45 12.41 L459.63 12.41 L459.81 12.41 L459.99 12.41 L460.16 12.41 L460.34 12.41 L460.52 12.41 L460.7 12.41 L460.88 12.41 L461.06 12.41 L461.23 12.41 L461.41 12.41 L461.59 12.41 L461.77 12.41 L461.95 12.41 L462.13 12.4 L462.3 12.4 L462.48 12.4 L462.66 12.4 L462.84 12.4 L463.02 12.4 L463.2 12.4 L463.37 12.4 L463.55 12.4 L463.73 12.4 L463.91 12.4 L464.09 12.4 L464.27 12.4 L464.44 12.4 L464.62 12.4 L464.8 12.4 L464.98 12.4 L465.16 12.4 L465.34 12.4 L465.51 12.4 L465.69 12.4 L465.87 12.4 L466.05 12.4 L466.23 12.4 L466.41 12.4 L466.58 12.4 L466.76 12.4 L466.94 12.4 L467.12 12.4 L467.3 12.4 L467.48 12.4 L467.65 12.4 L467.83 12.4 L468.01 12.4 L468.19 12.4 L468.37 12.4 L468.55 12.4 L468.72 12.4 L468.9 12.4 L469.08 12.4 L678.1 12.4" stroke="#254da0" stroke-width="2.1" fill="none" stroke-linejoin="round" stroke-linecap="butt"/>
<rect x="534.8" y="64.8" width="136.2" height="27.6" fill="#fff" stroke="#333" stroke-width="0.9"/>
<path d="M538.2 71.98h27.8" stroke="#ea3633" stroke-width="2.1"/>
<path d="M538.2 83.57h27.8" stroke="#254da0" stroke-width="2.1"/>
<text x="568.2" y="75.88" font-size="8.25" xml:space="preserve">Exploration  (Avg 1.202%)</text>
<text x="568.2" y="87.47" font-size="8.25" xml:space="preserve">Exploitation (Avg 98.798%)</text>
<rect x="204.9" y="292.94" width="298.8" height="235.99" fill="none" stroke="#444" stroke-width="1"/>
<text x="200.9" y="532.13" text-anchor="end" font-size="9.0">0</text>
<text x="200.9" y="508.53" text-anchor="end" font-size="9.0">10</text>
<text x="200.9" y="484.93" text-anchor="end" font-size="9.0">20</text>
<text x="200.9" y="461.33" text-anchor="end" font-size="9.0">30</text>
<text x="200.9" y="437.73" text-anchor="end" font-size="9.0">40</text>
<text x="200.9" y="414.13" text-anchor="end" font-size="9.0">50</text>
<text x="200.9" y="390.54" text-anchor="end" font-size="9.0">60</text>
<text x="200.9" y="366.94" text-anchor="end" font-size="9.0">70</text>
<text x="200.9" y="343.34" text-anchor="end" font-size="9.0">80</text>
<text x="200.9" y="319.74" text-anchor="end" font-size="9.0">90</text>
<text x="200.9" y="296.14" text-anchor="end" font-size="9.0">100</text>
<text x="204.9" y="541.93" text-anchor="middle" font-size="9.0">0</text>
<text x="247.59" y="541.93" text-anchor="middle" font-size="9.0">500</text>
<text x="290.27" y="541.93" text-anchor="middle" font-size="9.0">1000</text>
<text x="332.96" y="541.93" text-anchor="middle" font-size="9.0">1500</text>
<text x="375.64" y="541.93" text-anchor="middle" font-size="9.0">2000</text>
<text x="418.33" y="541.93" text-anchor="middle" font-size="9.0">2500</text>
<text x="461.01" y="541.93" text-anchor="middle" font-size="9.0">3000</text>
<text x="503.7" y="541.93" text-anchor="middle" font-size="9.0">3500</text>
<path d="M204.9 528.93h3.1M503.7 528.93h-3.1M204.9 505.33h3.1M503.7 505.33h-3.1M204.9 481.73h3.1M503.7 481.73h-3.1M204.9 458.13h3.1M503.7 458.13h-3.1M204.9 434.53h3.1M503.7 434.53h-3.1M204.9 410.93h3.1M503.7 410.93h-3.1M204.9 387.34h3.1M503.7 387.34h-3.1M204.9 363.74h3.1M503.7 363.74h-3.1M204.9 340.14h3.1M503.7 340.14h-3.1M204.9 316.54h3.1M503.7 316.54h-3.1M204.9 292.94h3.1M503.7 292.94h-3.1M204.9 528.93v-3.1M204.9 292.94v3.1M247.59 528.93v-3.1M247.59 292.94v3.1M290.27 528.93v-3.1M290.27 292.94v3.1M332.96 528.93v-3.1M332.96 292.94v3.1M375.64 528.93v-3.1M375.64 292.94v3.1M418.33 528.93v-3.1M418.33 292.94v3.1M461.01 528.93v-3.1M461.01 292.94v3.1M503.7 528.93v-3.1M503.7 292.94v3.1" stroke="#444" stroke-width="1" fill="none"/>
<text x="354.3" y="288.24" text-anchor="middle" font-size="10.4" font-weight="bold">CMAES Hybrid</text>
<text x="355" y="556.63" text-anchor="middle" font-size="10.3">Iterations</text>
<text transform="translate(179.5 416.43) rotate(-90)" text-anchor="middle" font-size="10.3">Percentage</text>
<path d="M204.99 292.94 L205.12 296.97 L205.26 300.91 L205.4 304.76 L205.53 308.51 L205.67 312.16 L205.81 315.69 L205.94 319.1 L206.08 322.41 L206.22 325.62 L206.35 328.76 L206.49 331.84 L206.63 334.88 L206.76 337.9 L206.9 340.92 L207.04 343.92 L207.17 346.9 L207.31 349.84 L207.45 352.75 L207.58 355.63 L207.72 358.49 L207.86 361.32 L207.99 364.13 L208.13 366.94 L208.27 369.74 L208.4 372.53 L208.54 375.29 L208.68 378.02 L208.81 380.69 L208.95 383.31 L209.09 385.85 L209.22 388.3 L209.36 390.7 L209.5 393.04 L209.63 395.33 L209.77 397.58 L209.91 399.79 L210.04 401.97 L210.18 404.12 L210.32 406.25 L210.45 408.37 L210.59 410.47 L210.73 412.57 L210.86 414.65 L211 416.72 L211.14 418.77 L211.27 420.8 L211.41 422.81 L211.55 424.8 L211.68 426.76 L211.82 428.71 L211.96 430.62 L212.09 432.51 L212.23 434.38 L212.37 436.24 L212.5 438.13 L212.64 440.04 L212.78 441.95 L212.91 443.86 L213.05 445.74 L213.19 447.58 L213.32 449.37 L213.46 451.1 L213.6 452.76 L213.73 454.32 L213.87 455.78 L214.01 457.12 L214.14 458.34 L214.28 459.45 L214.42 460.5 L214.55 461.49 L214.69 462.42 L214.83 463.31 L214.96 464.17 L215.1 465 L215.24 465.8 L215.37 466.6 L215.51 467.39 L215.65 468.19 L215.78 469.01 L215.92 469.83 L216.06 470.65 L216.19 471.47 L216.33 472.29 L216.47 473.11 L216.6 473.92 L216.74 474.72 L216.88 475.51 L217.01 476.28 L217.15 477.04 L217.29 477.78 L217.42 478.49 L217.56 479.18 L217.7 479.84 L217.83 480.47 L217.97 481.07 L218.11 481.64 L218.24 482.17 L218.38 482.67 L218.52 483.16 L218.66 483.63 L218.79 484.07 L218.93 484.51 L219.07 484.93 L219.2 485.34 L219.34 485.74 L219.48 486.13 L219.61 486.52 L219.75 486.9 L219.89 487.28 L220.02 487.66 L220.16 488.03 L220.3 488.38 L220.43 488.72 L220.57 489.05 L220.71 489.37 L220.84 489.7 L220.98 490.02 L221.12 490.34 L221.25 490.67 L221.39 491.01 L221.53 491.36 L221.66 491.72 L221.8 492.09 L221.94 492.49 L222.07 492.91 L222.21 493.34 L222.35 493.79 L222.48 494.26 L222.62 494.73 L222.76 495.22 L222.89 495.7 L223.03 496.18 L223.17 496.66 L223.3 497.13 L223.44 497.59 L223.58 498.04 L223.71 498.5 L223.85 498.96 L223.99 499.41 L224.12 499.87 L224.26 500.32 L224.4 500.78 L224.53 501.23 L224.67 501.68 L224.81 502.13 L224.94 502.57 L225.08 503.02 L225.22 503.46 L225.35 503.89 L225.49 504.32 L225.63 504.75 L225.76 505.17 L225.9 505.59 L226.04 506.01 L226.17 506.43 L226.31 506.85 L226.45 507.27 L226.58 507.69 L226.72 508.1 L226.86 508.52 L226.99 508.92 L227.13 509.33 L227.27 509.72 L227.4 510.11 L227.54 510.49 L227.68 510.86 L227.81 511.22 L227.95 511.56 L228.09 511.9 L228.22 512.21 L228.36 512.53 L228.5 512.83 L228.63 513.13 L228.77 513.43 L228.91 513.71 L229.04 514 L229.18 514.28 L229.32 514.55 L229.45 514.82 L229.59 515.09 L229.73 515.34 L229.86 515.6 L230 515.85 L230.14 516.09 L230.27 516.33 L230.41 516.57 L230.55 516.8 L230.68 517.03 L230.82 517.25 L230.96 517.47 L231.09 517.68 L231.23 517.89 L231.37 518.1 L231.5 518.31 L231.64 518.51 L231.78 518.71 L231.91 518.91 L232.05 519.11 L232.19 519.3 L232.32 519.5 L232.46 519.68 L232.6 519.87 L232.73 520.05 L232.87 520.23 L233.01 520.41 L233.14 520.58 L233.28 520.75 L233.42 520.91 L233.56 521.07 L233.69 521.23 L233.83 521.38 L233.97 521.53 L234.1 521.67 L234.24 521.81 L234.38 521.95 L234.51 522.08 L234.65 522.2 L234.79 522.33 L234.92 522.45 L235.06 522.57 L235.2 522.69 L235.33 522.81 L235.47 522.93 L235.61 523.04 L235.74 523.16 L235.88 523.27 L236.02 523.38 L236.15 523.49 L236.29 523.6 L236.43 523.7 L236.56 523.81 L236.7 523.91 L236.84 524.01 L236.97 524.1 L237.11 524.2 L237.25 524.29 L237.38 524.39 L237.52 524.48 L237.66 524.56 L237.79 524.65 L237.93 524.73 L238.07 524.81 L238.2 524.89 L238.34 524.97 L238.48 525.04 L238.61 525.11 L238.75 525.18 L238.89 525.24 L239.02 525.3 L239.16 525.36 L239.3 525.42 L239.43 525.48 L239.57 525.53 L239.71 525.59 L239.84 525.64 L239.98 525.69 L240.12 525.75 L240.25 525.8 L240.39 525.85 L240.53 525.9 L240.66 525.94 L240.8 525.99 L240.94 526.04 L241.07 526.08 L241.21 526.13 L241.35 526.17 L241.48 526.22 L241.62 526.26 L241.76 526.3 L241.89 526.34 L242.03 526.38 L242.17 526.42 L242.3 526.46 L242.44 526.5 L242.58 526.54 L242.71 526.57 L242.85 526.61 L242.99 526.65 L243.12 526.68 L243.26 526.72 L243.4 526.75 L243.53 526.78 L243.67 526.81 L243.81 526.85 L243.94 526.88 L244.08 526.91 L244.22 526.94 L244.35 526.97 L244.49 527 L244.63 527.03 L244.76 527.06 L244.9 527.08 L245.04 527.11 L245.17 527.14 L245.31 527.17 L245.45 527.19 L245.58 527.22 L245.72 527.24 L245.86 527.27 L245.99 527.3 L246.13 527.32 L246.27 527.35 L246.4 527.37 L246.54 527.39 L246.68 527.42 L246.81 527.44 L246.95 527.47 L247.09 527.49 L247.22 527.51 L247.36 527.53 L247.5 527.56 L247.63 527.58 L247.77 527.6 L247.91 527.62 L248.04 527.64 L248.18 527.67 L248.32 527.69 L248.45 527.71 L248.59 527.73 L248.73 527.75 L248.87 527.77 L249 527.79 L249.14 527.81 L249.28 527.83 L249.41 527.85 L249.55 527.87 L249.69 527.88 L249.82 527.9 L249.96 527.92 L250.1 527.94 L250.23 527.96 L250.37 527.97 L250.51 527.99 L250.64 528.01 L250.78 528.03 L250.92 528.04 L251.05 528.06 L251.19 528.08 L251.33 528.09 L251.46 528.11 L251.6 528.12 L251.74 528.14 L251.87 528.15 L252.01 528.17 L252.15 528.18 L252.28 528.2 L252.42 528.21 L252.56 528.23 L252.69 528.24 L252.83 528.25 L252.97 528.27 L253.1 528.28 L253.24 528.29 L253.38 528.31 L253.51 528.32 L253.65 528.33 L253.79 528.35 L253.92 528.36 L254.06 528.37 L254.2 528.39 L254.33 528.4 L254.47 528.41 L254.61 528.43 L254.74 528.44 L254.88 528.45 L255.02 528.47 L255.15 528.48 L255.29 528.49 L255.43 528.5 L255.56 528.52 L255.7 528.53 L255.84 528.54 L255.97 528.55 L256.11 528.56 L256.25 528.58 L256.38 528.59 L256.52 528.6 L256.66 528.61 L256.79 528.62 L256.93 528.63 L257.07 528.64 L257.2 528.65 L257.34 528.66 L257.48 528.67 L257.61 528.68 L257.75 528.69 L257.89 528.7 L258.02 528.71 L258.16 528.72 L258.3 528.72 L258.43 528.73 L258.57 528.74 L258.71 528.74 L258.84 528.75 L258.98 528.76 L259.12 528.76 L259.25 528.77 L259.39 528.77 L259.53 528.78 L259.66 528.78 L259.8 528.78 L259.94 528.79 L260.07 528.79 L260.21 528.79 L260.35 528.8 L260.48 528.8 L260.62 528.8 L260.76 528.8 L260.89 528.81 L261.03 528.81 L261.17 528.81 L261.3 528.81 L261.44 528.82 L261.58 528.82 L261.71 528.82 L261.85 528.82 L261.99 528.83 L262.12 528.83 L262.26 528.83 L262.4 528.83 L262.53 528.84 L262.67 528.84 L262.81 528.84 L262.94 528.84 L263.08 528.85 L263.22 528.85 L263.35 528.85 L263.49 528.85 L263.63 528.85 L263.77 528.86 L263.9 528.86 L264.04 528.86 L264.18 528.86 L264.31 528.86 L264.45 528.87 L264.59 528.87 L264.72 528.87 L264.86 528.87 L265 528.87 L265.13 528.88 L265.27 528.88 L265.41 528.88 L265.54 528.88 L265.68 528.88 L265.82 528.88 L265.95 528.89 L266.09 528.89 L266.23 528.89 L266.36 528.89 L266.5 528.89 L266.64 528.89 L266.77 528.89 L266.91 528.9 L267.05 528.9 L267.18 528.9 L267.32 528.9 L267.46 528.9 L267.59 528.9 L267.73 528.9 L267.87 528.91 L268 528.91 L268.14 528.91 L268.28 528.91 L268.41 528.91 L268.55 528.91 L268.69 528.91 L268.82 528.91 L268.96 528.91 L269.1 528.92 L269.23 528.92 L269.37 528.92 L269.51 528.92 L269.64 528.92 L269.78 528.92 L269.92 528.92 L270.05 528.92 L270.19 528.92 L270.33 528.92 L270.46 528.92 L270.6 528.92 L270.74 528.92 L270.87 528.93 L271.01 528.93 L271.15 528.93 L271.28 528.93 L271.42 528.93 L271.56 528.93 L271.69 528.93 L271.83 528.93 L271.97 528.93 L272.1 528.93 L272.24 528.93 L272.38 528.93 L272.51 528.93 L272.65 528.93 L272.79 528.93 L272.92 528.93 L273.06 528.93 L273.2 528.93 L489.61 528.93" stroke="#ea3633" stroke-width="2.1" fill="none" stroke-linejoin="round" stroke-linecap="butt"/>
<path d="M204.99 528.93 L205.12 524.9 L205.26 520.96 L205.4 517.11 L205.53 513.36 L205.67 509.71 L205.81 506.18 L205.94 502.77 L206.08 499.46 L206.22 496.25 L206.35 493.11 L206.49 490.03 L206.63 486.99 L206.76 483.97 L206.9 480.95 L207.04 477.95 L207.17 474.97 L207.31 472.03 L207.45 469.12 L207.58 466.24 L207.72 463.38 L207.86 460.55 L207.99 457.74 L208.13 454.93 L208.27 452.13 L208.4 449.34 L208.54 446.58 L208.68 443.85 L208.81 441.18 L208.95 438.56 L209.09 436.02 L209.22 433.57 L209.36 431.17 L209.5 428.83 L209.63 426.54 L209.77 424.29 L209.91 422.08 L210.04 419.9 L210.18 417.75 L210.32 415.62 L210.45 413.5 L210.59 411.4 L210.73 409.3 L210.86 407.22 L211 405.15 L211.14 403.1 L211.27 401.07 L211.41 399.06 L211.55 397.07 L211.68 395.11 L211.82 393.16 L211.96 391.25 L212.09 389.36 L212.23 387.49 L212.37 385.63 L212.5 383.74 L212.64 381.83 L212.78 379.92 L212.91 378.01 L213.05 376.13 L213.19 374.29 L213.32 372.5 L213.46 370.77 L213.6 369.11 L213.73 367.55 L213.87 366.09 L214.01 364.75 L214.14 363.53 L214.28 362.42 L214.42 361.37 L214.55 360.38 L214.69 359.45 L214.83 358.56 L214.96 357.7 L215.1 356.87 L215.24 356.07 L215.37 355.27 L215.51 354.48 L215.65 353.68 L215.78 352.86 L215.92 352.04 L216.06 351.22 L216.19 350.4 L216.33 349.58 L216.47 348.76 L216.6 347.95 L216.74 347.15 L216.88 346.36 L217.01 345.59 L217.15 344.83 L217.29 344.09 L217.42 343.38 L217.56 342.69 L217.7 342.03 L217.83 341.4 L217.97 340.8 L218.11 340.23 L218.24 339.7 L218.38 339.2 L218.52 338.71 L218.66 338.24 L218.79 337.8 L218.93 337.36 L219.07 336.94 L219.2 336.53 L219.34 336.13 L219.48 335.74 L219.61 335.35 L219.75 334.97 L219.89 334.59 L220.02 334.21 L220.16 333.84 L220.3 333.49 L220.43 333.15 L220.57 332.82 L220.71 332.5 L220.84 332.17 L220.98 331.85 L221.12 331.53 L221.25 331.2 L221.39 330.86 L221.53 330.51 L221.66 330.15 L221.8 329.78 L221.94 329.38 L222.07 328.96 L222.21 328.53 L222.35 328.08 L222.48 327.61 L222.62 327.14 L222.76 326.65 L222.89 326.17 L223.03 325.69 L223.17 325.21 L223.3 324.74 L223.44 324.28 L223.58 323.83 L223.71 323.37 L223.85 322.91 L223.99 322.46 L224.12 322 L224.26 321.55 L224.4 321.09 L224.53 320.64 L224.67 320.19 L224.81 319.74 L224.94 319.3 L225.08 318.85 L225.22 318.41 L225.35 317.98 L225.49 317.55 L225.63 317.12 L225.76 316.7 L225.9 316.28 L226.04 315.86 L226.17 315.44 L226.31 315.02 L226.45 314.6 L226.58 314.18 L226.72 313.77 L226.86 313.35 L226.99 312.95 L227.13 312.54 L227.27 312.15 L227.4 311.76 L227.54 311.38 L227.68 311.01 L227.81 310.65 L227.95 310.31 L228.09 309.97 L228.22 309.66 L228.36 309.34 L228.5 309.04 L228.63 308.74 L228.77 308.44 L228.91 308.16 L229.04 307.87 L229.18 307.59 L229.32 307.32 L229.45 307.05 L229.59 306.78 L229.73 306.53 L229.86 306.27 L230 306.02 L230.14 305.78 L230.27 305.54 L230.41 305.3 L230.55 305.07 L230.68 304.84 L230.82 304.62 L230.96 304.4 L231.09 304.19 L231.23 303.98 L231.37 303.77 L231.5 303.56 L231.64 303.36 L231.78 303.16 L231.91 302.96 L232.05 302.76 L232.19 302.57 L232.32 302.37 L232.46 302.19 L232.6 302 L232.73 301.82 L232.87 301.64 L233.01 301.46 L233.14 301.29 L233.28 301.12 L233.42 300.96 L233.56 300.8 L233.69 300.64 L233.83 300.49 L233.97 300.34 L234.1 300.2 L234.24 300.06 L234.38 299.92 L234.51 299.79 L234.65 299.67 L234.79 299.54 L234.92 299.42 L235.06 299.3 L235.2 299.18 L235.33 299.06 L235.47 298.94 L235.61 298.83 L235.74 298.71 L235.88 298.6 L236.02 298.49 L236.15 298.38 L236.29 298.27 L236.43 298.17 L236.56 298.06 L236.7 297.96 L236.84 297.86 L236.97 297.77 L237.11 297.67 L237.25 297.58 L237.38 297.48 L237.52 297.39 L237.66 297.31 L237.79 297.22 L237.93 297.14 L238.07 297.06 L238.2 296.98 L238.34 296.9 L238.48 296.83 L238.61 296.76 L238.75 296.69 L238.89 296.63 L239.02 296.57 L239.16 296.51 L239.3 296.45 L239.43 296.39 L239.57 296.34 L239.71 296.28 L239.84 296.23 L239.98 296.18 L240.12 296.12 L240.25 296.07 L240.39 296.02 L240.53 295.97 L240.66 295.93 L240.8 295.88 L240.94 295.83 L241.07 295.79 L241.21 295.74 L241.35 295.7 L241.48 295.65 L241.62 295.61 L241.76 295.57 L241.89 295.53 L242.03 295.49 L242.17 295.45 L242.3 295.41 L242.44 295.37 L242.58 295.33 L242.71 295.3 L242.85 295.26 L242.99 295.22 L243.12 295.19 L243.26 295.15 L243.4 295.12 L243.53 295.09 L243.67 295.06 L243.81 295.02 L243.94 294.99 L244.08 294.96 L244.22 294.93 L244.35 294.9 L244.49 294.87 L244.63 294.84 L244.76 294.81 L244.9 294.79 L245.04 294.76 L245.17 294.73 L245.31 294.7 L245.45 294.68 L245.58 294.65 L245.72 294.63 L245.86 294.6 L245.99 294.57 L246.13 294.55 L246.27 294.52 L246.4 294.5 L246.54 294.48 L246.68 294.45 L246.81 294.43 L246.95 294.4 L247.09 294.38 L247.22 294.36 L247.36 294.34 L247.5 294.31 L247.63 294.29 L247.77 294.27 L247.91 294.25 L248.04 294.23 L248.18 294.2 L248.32 294.18 L248.45 294.16 L248.59 294.14 L248.73 294.12 L248.87 294.1 L249 294.08 L249.14 294.06 L249.28 294.04 L249.41 294.02 L249.55 294 L249.69 293.99 L249.82 293.97 L249.96 293.95 L250.1 293.93 L250.23 293.91 L250.37 293.9 L250.51 293.88 L250.64 293.86 L250.78 293.84 L250.92 293.83 L251.05 293.81 L251.19 293.79 L251.33 293.78 L251.46 293.76 L251.6 293.75 L251.74 293.73 L251.87 293.72 L252.01 293.7 L252.15 293.69 L252.28 293.67 L252.42 293.66 L252.56 293.64 L252.69 293.63 L252.83 293.62 L252.97 293.6 L253.1 293.59 L253.24 293.58 L253.38 293.56 L253.51 293.55 L253.65 293.54 L253.79 293.52 L253.92 293.51 L254.06 293.5 L254.2 293.48 L254.33 293.47 L254.47 293.46 L254.61 293.44 L254.74 293.43 L254.88 293.42 L255.02 293.4 L255.15 293.39 L255.29 293.38 L255.43 293.37 L255.56 293.35 L255.7 293.34 L255.84 293.33 L255.97 293.32 L256.11 293.31 L256.25 293.29 L256.38 293.28 L256.52 293.27 L256.66 293.26 L256.79 293.25 L256.93 293.24 L257.07 293.23 L257.2 293.22 L257.34 293.21 L257.48 293.2 L257.61 293.19 L257.75 293.18 L257.89 293.17 L258.02 293.16 L258.16 293.15 L258.3 293.15 L258.43 293.14 L258.57 293.13 L258.71 293.13 L258.84 293.12 L258.98 293.11 L259.12 293.11 L259.25 293.1 L259.39 293.1 L259.53 293.09 L259.66 293.09 L259.8 293.09 L259.94 293.08 L260.07 293.08 L260.21 293.08 L260.35 293.07 L260.48 293.07 L260.62 293.07 L260.76 293.07 L260.89 293.06 L261.03 293.06 L261.17 293.06 L261.3 293.06 L261.44 293.05 L261.58 293.05 L261.71 293.05 L261.85 293.05 L261.99 293.04 L262.12 293.04 L262.26 293.04 L262.4 293.04 L262.53 293.03 L262.67 293.03 L262.81 293.03 L262.94 293.03 L263.08 293.02 L263.22 293.02 L263.35 293.02 L263.49 293.02 L263.63 293.02 L263.77 293.01 L263.9 293.01 L264.04 293.01 L264.18 293.01 L264.31 293.01 L264.45 293 L264.59 293 L264.72 293 L264.86 293 L265 293 L265.13 292.99 L265.27 292.99 L265.41 292.99 L265.54 292.99 L265.68 292.99 L265.82 292.99 L265.95 292.98 L266.09 292.98 L266.23 292.98 L266.36 292.98 L266.5 292.98 L266.64 292.98 L266.77 292.98 L266.91 292.97 L267.05 292.97 L267.18 292.97 L267.32 292.97 L267.46 292.97 L267.59 292.97 L267.73 292.97 L267.87 292.96 L268 292.96 L268.14 292.96 L268.28 292.96 L268.41 292.96 L268.55 292.96 L268.69 292.96 L268.82 292.96 L268.96 292.96 L269.1 292.95 L269.23 292.95 L269.37 292.95 L269.51 292.95 L269.64 292.95 L269.78 292.95 L269.92 292.95 L270.05 292.95 L270.19 292.95 L270.33 292.95 L270.46 292.95 L270.6 292.95 L270.74 292.95 L270.87 292.94 L271.01 292.94 L271.15 292.94 L271.28 292.94 L271.42 292.94 L271.56 292.94 L271.69 292.94 L271.83 292.94 L271.97 292.94 L272.1 292.94 L272.24 292.94 L272.38 292.94 L272.51 292.94 L272.65 292.94 L272.79 292.94 L272.92 292.94 L273.06 292.94 L273.2 292.94 L489.61 292.94" stroke="#254da0" stroke-width="2.1" fill="none" stroke-linejoin="round" stroke-linecap="butt"/>
<rect x="358.9" y="345.5" width="140.6" height="27.6" fill="#fff" stroke="#333" stroke-width="0.9"/>
<path d="M362.3 352.68h27.8" stroke="#ea3633" stroke-width="2.1"/>
<path d="M362.3 364.27h27.8" stroke="#254da0" stroke-width="2.1"/>
<text x="392.3" y="356.58" font-size="8.25" xml:space="preserve">Exploration  (Avg 2.9509%)</text>
<text x="392.3" y="368.17" font-size="8.25" xml:space="preserve">Exploitation (Avg 97.0491%)</text>
</svg>
</body></html>
